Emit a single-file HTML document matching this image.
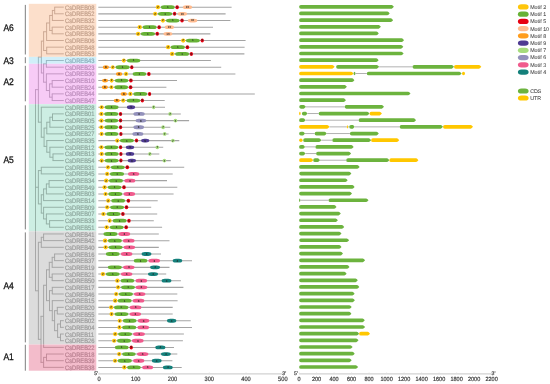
<!DOCTYPE html>
<html><head><meta charset="utf-8"><title>CsDREB</title>
<style>
html,body{margin:0;padding:0;background:#fff;}
body{width:550px;height:384px;overflow:hidden;}
#wrap{width:550px;height:384px;}
svg{display:block;font-family:"Liberation Sans",Arial,sans-serif;text-rendering:geometricPrecision;}
</style></head><body>
<div id="wrap">
<svg width="550" height="384" viewBox="0 0 550 384">
<g>
<rect x="0" y="0" width="550" height="384" fill="#ffffff"/>
<rect x="28.8" y="3.80" width="67.50" height="53.10" fill="#fcdfcb"/>
<rect x="28.8" y="56.90" width="67.50" height="6.90" fill="#d1eff9"/>
<rect x="28.8" y="63.80" width="67.50" height="40.40" fill="#f7cbf6"/>
<rect x="28.8" y="104.20" width="67.50" height="127.10" fill="#cdeee3"/>
<rect x="28.8" y="231.30" width="67.50" height="113.20" fill="#dcdcdc"/>
<rect x="28.8" y="344.50" width="67.50" height="26.20" fill="#f3bccb"/>
<rect x="24.8" y="4.90" width="1.1" height="49.60" fill="#8a8a8a"/>
<text transform="translate(8.6,31.35) scale(1,1.12)" font-size="8.5" text-anchor="middle" fill="#111" stroke="#111" stroke-width="0.25">A6</text>
<rect x="24.8" y="57.20" width="1.1" height="6.00" fill="#8a8a8a"/>
<text transform="translate(8.6,64.05) scale(1,1.12)" font-size="8.5" text-anchor="middle" fill="#111" stroke="#111" stroke-width="0.25">A3</text>
<rect x="24.8" y="65.80" width="1.1" height="35.50" fill="#8a8a8a"/>
<text transform="translate(8.6,85.35) scale(1,1.12)" font-size="8.5" text-anchor="middle" fill="#111" stroke="#111" stroke-width="0.25">A2</text>
<rect x="24.8" y="105.30" width="1.1" height="124.10" fill="#8a8a8a"/>
<text transform="translate(8.6,162.95) scale(1,1.12)" font-size="8.5" text-anchor="middle" fill="#111" stroke="#111" stroke-width="0.25">A5</text>
<rect x="24.8" y="232.40" width="1.1" height="110.00" fill="#8a8a8a"/>
<text transform="translate(8.6,289.35) scale(1,1.12)" font-size="8.5" text-anchor="middle" fill="#111" stroke="#111" stroke-width="0.25">A4</text>
<rect x="24.8" y="344.80" width="1.1" height="25.90" fill="#8a8a8a"/>
<text transform="translate(8.6,360.35) scale(1,1.12)" font-size="8.5" text-anchor="middle" fill="#111" stroke="#111" stroke-width="0.25">A1</text>
<line x1="54.25" y1="7.14" x2="63.80" y2="7.14" stroke="#c7a48e" stroke-width="0.9"/>
<line x1="54.25" y1="13.81" x2="63.80" y2="13.81" stroke="#c7a48e" stroke-width="0.9"/>
<line x1="54.70" y1="7.14" x2="54.70" y2="13.81" stroke="#c7a48e" stroke-width="0.9"/>
<line x1="51.95" y1="10.48" x2="54.70" y2="10.48" stroke="#c7a48e" stroke-width="0.9"/>
<line x1="51.95" y1="20.48" x2="63.80" y2="20.48" stroke="#c7a48e" stroke-width="0.9"/>
<line x1="52.40" y1="10.48" x2="52.40" y2="20.48" stroke="#c7a48e" stroke-width="0.9"/>
<line x1="51.75" y1="27.15" x2="63.80" y2="27.15" stroke="#c7a48e" stroke-width="0.9"/>
<line x1="51.75" y1="33.82" x2="63.80" y2="33.82" stroke="#c7a48e" stroke-width="0.9"/>
<line x1="52.20" y1="27.15" x2="52.20" y2="33.82" stroke="#c7a48e" stroke-width="0.9"/>
<line x1="49.25" y1="15.48" x2="52.40" y2="15.48" stroke="#c7a48e" stroke-width="0.9"/>
<line x1="49.25" y1="30.49" x2="52.20" y2="30.49" stroke="#c7a48e" stroke-width="0.9"/>
<line x1="49.70" y1="15.48" x2="49.70" y2="30.49" stroke="#c7a48e" stroke-width="0.9"/>
<line x1="46.15" y1="22.98" x2="49.70" y2="22.98" stroke="#c7a48e" stroke-width="0.9"/>
<line x1="46.15" y1="40.50" x2="63.80" y2="40.50" stroke="#c7a48e" stroke-width="0.9"/>
<line x1="46.60" y1="22.98" x2="46.60" y2="40.50" stroke="#c7a48e" stroke-width="0.9"/>
<line x1="46.25" y1="47.17" x2="63.80" y2="47.17" stroke="#c7a48e" stroke-width="0.9"/>
<line x1="46.25" y1="53.84" x2="63.80" y2="53.84" stroke="#c7a48e" stroke-width="0.9"/>
<line x1="46.70" y1="47.17" x2="46.70" y2="53.84" stroke="#c7a48e" stroke-width="0.9"/>
<line x1="43.15" y1="31.74" x2="46.60" y2="31.74" stroke="#c7a48e" stroke-width="0.9"/>
<line x1="43.15" y1="50.50" x2="46.70" y2="50.50" stroke="#c7a48e" stroke-width="0.9"/>
<line x1="43.60" y1="31.74" x2="43.60" y2="50.50" stroke="#c7a48e" stroke-width="0.9"/>
<line x1="45.95" y1="60.51" x2="63.80" y2="60.51" stroke="#94b4c0" stroke-width="0.9"/>
<line x1="45.95" y1="67.18" x2="63.80" y2="67.18" stroke="#be92be" stroke-width="0.9"/>
<line x1="46.40" y1="60.51" x2="46.40" y2="63.80" stroke="#94b4c0" stroke-width="0.9"/>
<line x1="46.40" y1="63.80" x2="46.40" y2="67.18" stroke="#be92be" stroke-width="0.9"/>
<line x1="51.75" y1="80.52" x2="63.80" y2="80.52" stroke="#be92be" stroke-width="0.9"/>
<line x1="51.75" y1="87.19" x2="63.80" y2="87.19" stroke="#be92be" stroke-width="0.9"/>
<line x1="52.20" y1="80.52" x2="52.20" y2="87.19" stroke="#be92be" stroke-width="0.9"/>
<line x1="51.75" y1="93.86" x2="63.80" y2="93.86" stroke="#be92be" stroke-width="0.9"/>
<line x1="51.75" y1="100.53" x2="63.80" y2="100.53" stroke="#be92be" stroke-width="0.9"/>
<line x1="52.20" y1="93.86" x2="52.20" y2="100.53" stroke="#be92be" stroke-width="0.9"/>
<line x1="49.15" y1="83.86" x2="52.20" y2="83.86" stroke="#be92be" stroke-width="0.9"/>
<line x1="49.15" y1="97.20" x2="52.20" y2="97.20" stroke="#be92be" stroke-width="0.9"/>
<line x1="49.60" y1="83.86" x2="49.60" y2="97.20" stroke="#be92be" stroke-width="0.9"/>
<line x1="45.95" y1="73.85" x2="63.80" y2="73.85" stroke="#be92be" stroke-width="0.9"/>
<line x1="45.95" y1="90.53" x2="49.60" y2="90.53" stroke="#be92be" stroke-width="0.9"/>
<line x1="46.40" y1="73.85" x2="46.40" y2="90.53" stroke="#be92be" stroke-width="0.9"/>
<line x1="43.15" y1="63.84" x2="46.40" y2="63.84" stroke="#94b4c0" stroke-width="0.9"/>
<line x1="43.15" y1="82.19" x2="46.40" y2="82.19" stroke="#be92be" stroke-width="0.9"/>
<line x1="43.60" y1="63.84" x2="43.60" y2="82.19" stroke="#be92be" stroke-width="0.9"/>
<line x1="40.95" y1="41.12" x2="43.60" y2="41.12" stroke="#c7a48e" stroke-width="0.9"/>
<line x1="40.95" y1="73.02" x2="43.60" y2="73.02" stroke="#be92be" stroke-width="0.9"/>
<line x1="41.40" y1="41.12" x2="41.40" y2="56.90" stroke="#c7a48e" stroke-width="0.9"/>
<line x1="41.40" y1="56.90" x2="41.40" y2="63.80" stroke="#94b4c0" stroke-width="0.9"/>
<line x1="41.40" y1="63.80" x2="41.40" y2="73.02" stroke="#be92be" stroke-width="0.9"/>
<line x1="52.05" y1="113.88" x2="63.80" y2="113.88" stroke="#90aca1" stroke-width="0.9"/>
<line x1="52.05" y1="120.55" x2="63.80" y2="120.55" stroke="#90aca1" stroke-width="0.9"/>
<line x1="52.50" y1="113.88" x2="52.50" y2="120.55" stroke="#90aca1" stroke-width="0.9"/>
<line x1="49.45" y1="117.21" x2="52.50" y2="117.21" stroke="#90aca1" stroke-width="0.9"/>
<line x1="49.45" y1="127.22" x2="63.80" y2="127.22" stroke="#90aca1" stroke-width="0.9"/>
<line x1="49.90" y1="117.21" x2="49.90" y2="127.22" stroke="#90aca1" stroke-width="0.9"/>
<line x1="46.35" y1="122.21" x2="49.90" y2="122.21" stroke="#90aca1" stroke-width="0.9"/>
<line x1="46.35" y1="133.89" x2="63.80" y2="133.89" stroke="#90aca1" stroke-width="0.9"/>
<line x1="46.80" y1="122.21" x2="46.80" y2="133.89" stroke="#90aca1" stroke-width="0.9"/>
<line x1="52.55" y1="153.90" x2="63.80" y2="153.90" stroke="#90aca1" stroke-width="0.9"/>
<line x1="52.55" y1="160.57" x2="63.80" y2="160.57" stroke="#90aca1" stroke-width="0.9"/>
<line x1="53.00" y1="153.90" x2="53.00" y2="160.57" stroke="#90aca1" stroke-width="0.9"/>
<line x1="49.45" y1="147.23" x2="63.80" y2="147.23" stroke="#90aca1" stroke-width="0.9"/>
<line x1="49.45" y1="157.24" x2="53.00" y2="157.24" stroke="#90aca1" stroke-width="0.9"/>
<line x1="49.90" y1="147.23" x2="49.90" y2="157.24" stroke="#90aca1" stroke-width="0.9"/>
<line x1="46.35" y1="140.56" x2="63.80" y2="140.56" stroke="#90aca1" stroke-width="0.9"/>
<line x1="46.35" y1="152.23" x2="49.90" y2="152.23" stroke="#90aca1" stroke-width="0.9"/>
<line x1="46.80" y1="140.56" x2="46.80" y2="152.23" stroke="#90aca1" stroke-width="0.9"/>
<line x1="43.65" y1="128.05" x2="46.80" y2="128.05" stroke="#90aca1" stroke-width="0.9"/>
<line x1="43.65" y1="146.40" x2="46.80" y2="146.40" stroke="#90aca1" stroke-width="0.9"/>
<line x1="44.10" y1="128.05" x2="44.10" y2="146.40" stroke="#90aca1" stroke-width="0.9"/>
<line x1="40.85" y1="107.20" x2="63.80" y2="107.20" stroke="#90aca1" stroke-width="0.9"/>
<line x1="40.85" y1="137.22" x2="44.10" y2="137.22" stroke="#90aca1" stroke-width="0.9"/>
<line x1="41.30" y1="107.20" x2="41.30" y2="137.22" stroke="#90aca1" stroke-width="0.9"/>
<line x1="37.95" y1="57.07" x2="41.40" y2="57.07" stroke="#c7a48e" stroke-width="0.9"/>
<line x1="37.95" y1="122.21" x2="41.30" y2="122.21" stroke="#90aca1" stroke-width="0.9"/>
<line x1="38.40" y1="57.07" x2="38.40" y2="63.80" stroke="#94b4c0" stroke-width="0.9"/>
<line x1="38.40" y1="63.80" x2="38.40" y2="104.20" stroke="#be92be" stroke-width="0.9"/>
<line x1="38.40" y1="104.20" x2="38.40" y2="122.21" stroke="#90aca1" stroke-width="0.9"/>
<line x1="40.85" y1="167.24" x2="63.80" y2="167.24" stroke="#90aca1" stroke-width="0.9"/>
<line x1="40.85" y1="173.91" x2="63.80" y2="173.91" stroke="#90aca1" stroke-width="0.9"/>
<line x1="41.30" y1="167.24" x2="41.30" y2="173.91" stroke="#90aca1" stroke-width="0.9"/>
<line x1="48.65" y1="180.59" x2="63.80" y2="180.59" stroke="#90aca1" stroke-width="0.9"/>
<line x1="48.65" y1="187.26" x2="63.80" y2="187.26" stroke="#90aca1" stroke-width="0.9"/>
<line x1="49.10" y1="180.59" x2="49.10" y2="187.26" stroke="#90aca1" stroke-width="0.9"/>
<line x1="45.95" y1="183.92" x2="49.10" y2="183.92" stroke="#90aca1" stroke-width="0.9"/>
<line x1="45.95" y1="193.93" x2="63.80" y2="193.93" stroke="#90aca1" stroke-width="0.9"/>
<line x1="46.40" y1="183.92" x2="46.40" y2="193.93" stroke="#90aca1" stroke-width="0.9"/>
<line x1="43.15" y1="188.92" x2="46.40" y2="188.92" stroke="#90aca1" stroke-width="0.9"/>
<line x1="43.15" y1="200.60" x2="63.80" y2="200.60" stroke="#90aca1" stroke-width="0.9"/>
<line x1="43.60" y1="188.92" x2="43.60" y2="200.60" stroke="#90aca1" stroke-width="0.9"/>
<line x1="49.15" y1="220.61" x2="63.80" y2="220.61" stroke="#90aca1" stroke-width="0.9"/>
<line x1="49.15" y1="227.28" x2="63.80" y2="227.28" stroke="#90aca1" stroke-width="0.9"/>
<line x1="49.60" y1="220.61" x2="49.60" y2="227.28" stroke="#90aca1" stroke-width="0.9"/>
<line x1="45.95" y1="213.94" x2="63.80" y2="213.94" stroke="#90aca1" stroke-width="0.9"/>
<line x1="45.95" y1="223.95" x2="49.60" y2="223.95" stroke="#90aca1" stroke-width="0.9"/>
<line x1="46.40" y1="213.94" x2="46.40" y2="223.95" stroke="#90aca1" stroke-width="0.9"/>
<line x1="43.15" y1="207.27" x2="63.80" y2="207.27" stroke="#90aca1" stroke-width="0.9"/>
<line x1="43.15" y1="218.94" x2="46.40" y2="218.94" stroke="#90aca1" stroke-width="0.9"/>
<line x1="43.60" y1="207.27" x2="43.60" y2="218.94" stroke="#90aca1" stroke-width="0.9"/>
<line x1="40.85" y1="194.76" x2="43.60" y2="194.76" stroke="#90aca1" stroke-width="0.9"/>
<line x1="40.85" y1="213.11" x2="43.60" y2="213.11" stroke="#90aca1" stroke-width="0.9"/>
<line x1="41.30" y1="194.76" x2="41.30" y2="213.11" stroke="#90aca1" stroke-width="0.9"/>
<line x1="37.95" y1="170.58" x2="41.30" y2="170.58" stroke="#90aca1" stroke-width="0.9"/>
<line x1="37.95" y1="203.93" x2="41.30" y2="203.93" stroke="#90aca1" stroke-width="0.9"/>
<line x1="38.40" y1="170.58" x2="38.40" y2="203.93" stroke="#90aca1" stroke-width="0.9"/>
<line x1="43.15" y1="233.95" x2="63.80" y2="233.95" stroke="#a0a0a0" stroke-width="0.9"/>
<line x1="43.15" y1="240.62" x2="63.80" y2="240.62" stroke="#a0a0a0" stroke-width="0.9"/>
<line x1="43.60" y1="233.95" x2="43.60" y2="240.62" stroke="#a0a0a0" stroke-width="0.9"/>
<line x1="40.85" y1="237.29" x2="43.60" y2="237.29" stroke="#a0a0a0" stroke-width="0.9"/>
<line x1="40.85" y1="247.30" x2="63.80" y2="247.30" stroke="#a0a0a0" stroke-width="0.9"/>
<line x1="41.30" y1="237.29" x2="41.30" y2="247.30" stroke="#a0a0a0" stroke-width="0.9"/>
<line x1="54.15" y1="253.97" x2="63.80" y2="253.97" stroke="#a0a0a0" stroke-width="0.9"/>
<line x1="54.15" y1="260.64" x2="63.80" y2="260.64" stroke="#a0a0a0" stroke-width="0.9"/>
<line x1="54.60" y1="253.97" x2="54.60" y2="260.64" stroke="#a0a0a0" stroke-width="0.9"/>
<line x1="51.75" y1="257.30" x2="54.60" y2="257.30" stroke="#a0a0a0" stroke-width="0.9"/>
<line x1="51.75" y1="267.31" x2="63.80" y2="267.31" stroke="#a0a0a0" stroke-width="0.9"/>
<line x1="52.20" y1="257.30" x2="52.20" y2="267.31" stroke="#a0a0a0" stroke-width="0.9"/>
<line x1="51.75" y1="273.98" x2="63.80" y2="273.98" stroke="#a0a0a0" stroke-width="0.9"/>
<line x1="51.75" y1="280.65" x2="63.80" y2="280.65" stroke="#a0a0a0" stroke-width="0.9"/>
<line x1="52.20" y1="273.98" x2="52.20" y2="280.65" stroke="#a0a0a0" stroke-width="0.9"/>
<line x1="48.85" y1="262.31" x2="52.20" y2="262.31" stroke="#a0a0a0" stroke-width="0.9"/>
<line x1="48.85" y1="277.32" x2="52.20" y2="277.32" stroke="#a0a0a0" stroke-width="0.9"/>
<line x1="49.30" y1="262.31" x2="49.30" y2="277.32" stroke="#a0a0a0" stroke-width="0.9"/>
<line x1="51.85" y1="287.32" x2="63.80" y2="287.32" stroke="#a0a0a0" stroke-width="0.9"/>
<line x1="51.85" y1="293.99" x2="63.80" y2="293.99" stroke="#a0a0a0" stroke-width="0.9"/>
<line x1="52.30" y1="287.32" x2="52.30" y2="293.99" stroke="#a0a0a0" stroke-width="0.9"/>
<line x1="56.85" y1="307.33" x2="63.80" y2="307.33" stroke="#a0a0a0" stroke-width="0.9"/>
<line x1="56.85" y1="314.01" x2="63.80" y2="314.01" stroke="#a0a0a0" stroke-width="0.9"/>
<line x1="57.30" y1="307.33" x2="57.30" y2="314.01" stroke="#a0a0a0" stroke-width="0.9"/>
<line x1="60.05" y1="320.68" x2="63.80" y2="320.68" stroke="#a0a0a0" stroke-width="0.9"/>
<line x1="60.05" y1="327.35" x2="63.80" y2="327.35" stroke="#a0a0a0" stroke-width="0.9"/>
<line x1="60.50" y1="320.68" x2="60.50" y2="327.35" stroke="#a0a0a0" stroke-width="0.9"/>
<line x1="60.05" y1="334.02" x2="63.80" y2="334.02" stroke="#a0a0a0" stroke-width="0.9"/>
<line x1="60.05" y1="340.69" x2="63.80" y2="340.69" stroke="#a0a0a0" stroke-width="0.9"/>
<line x1="60.50" y1="334.02" x2="60.50" y2="340.69" stroke="#a0a0a0" stroke-width="0.9"/>
<line x1="57.15" y1="324.01" x2="60.50" y2="324.01" stroke="#a0a0a0" stroke-width="0.9"/>
<line x1="57.15" y1="337.35" x2="60.50" y2="337.35" stroke="#a0a0a0" stroke-width="0.9"/>
<line x1="57.60" y1="324.01" x2="57.60" y2="337.35" stroke="#a0a0a0" stroke-width="0.9"/>
<line x1="54.15" y1="310.67" x2="57.30" y2="310.67" stroke="#a0a0a0" stroke-width="0.9"/>
<line x1="54.15" y1="330.68" x2="57.60" y2="330.68" stroke="#a0a0a0" stroke-width="0.9"/>
<line x1="54.60" y1="310.67" x2="54.60" y2="330.68" stroke="#a0a0a0" stroke-width="0.9"/>
<line x1="51.85" y1="300.66" x2="63.80" y2="300.66" stroke="#a0a0a0" stroke-width="0.9"/>
<line x1="51.85" y1="320.68" x2="54.60" y2="320.68" stroke="#a0a0a0" stroke-width="0.9"/>
<line x1="52.30" y1="300.66" x2="52.30" y2="320.68" stroke="#a0a0a0" stroke-width="0.9"/>
<line x1="49.05" y1="290.66" x2="52.30" y2="290.66" stroke="#a0a0a0" stroke-width="0.9"/>
<line x1="49.05" y1="310.67" x2="52.30" y2="310.67" stroke="#a0a0a0" stroke-width="0.9"/>
<line x1="49.50" y1="290.66" x2="49.50" y2="310.67" stroke="#a0a0a0" stroke-width="0.9"/>
<line x1="46.05" y1="269.81" x2="49.30" y2="269.81" stroke="#a0a0a0" stroke-width="0.9"/>
<line x1="46.05" y1="300.66" x2="49.50" y2="300.66" stroke="#a0a0a0" stroke-width="0.9"/>
<line x1="46.50" y1="269.81" x2="46.50" y2="300.66" stroke="#a0a0a0" stroke-width="0.9"/>
<line x1="43.15" y1="285.24" x2="46.50" y2="285.24" stroke="#a0a0a0" stroke-width="0.9"/>
<line x1="43.15" y1="347.36" x2="63.80" y2="347.36" stroke="#c08896" stroke-width="0.9"/>
<line x1="43.60" y1="285.24" x2="43.60" y2="344.50" stroke="#a0a0a0" stroke-width="0.9"/>
<line x1="43.60" y1="344.50" x2="43.60" y2="347.36" stroke="#c08896" stroke-width="0.9"/>
<line x1="46.05" y1="354.03" x2="63.80" y2="354.03" stroke="#c08896" stroke-width="0.9"/>
<line x1="46.05" y1="360.70" x2="63.80" y2="360.70" stroke="#c08896" stroke-width="0.9"/>
<line x1="46.50" y1="354.03" x2="46.50" y2="360.70" stroke="#c08896" stroke-width="0.9"/>
<line x1="43.15" y1="357.37" x2="46.50" y2="357.37" stroke="#c08896" stroke-width="0.9"/>
<line x1="43.15" y1="367.37" x2="63.80" y2="367.37" stroke="#c08896" stroke-width="0.9"/>
<line x1="43.60" y1="357.37" x2="43.60" y2="367.37" stroke="#c08896" stroke-width="0.9"/>
<line x1="40.55" y1="316.30" x2="43.60" y2="316.30" stroke="#a0a0a0" stroke-width="0.9"/>
<line x1="40.55" y1="362.37" x2="43.60" y2="362.37" stroke="#c08896" stroke-width="0.9"/>
<line x1="41.00" y1="316.30" x2="41.00" y2="344.50" stroke="#a0a0a0" stroke-width="0.9"/>
<line x1="41.00" y1="344.50" x2="41.00" y2="362.37" stroke="#c08896" stroke-width="0.9"/>
<line x1="37.95" y1="242.29" x2="41.30" y2="242.29" stroke="#a0a0a0" stroke-width="0.9"/>
<line x1="37.95" y1="339.33" x2="41.00" y2="339.33" stroke="#a0a0a0" stroke-width="0.9"/>
<line x1="38.40" y1="242.29" x2="38.40" y2="339.33" stroke="#a0a0a0" stroke-width="0.9"/>
<line x1="35.05" y1="89.64" x2="38.40" y2="89.64" stroke="#be92be" stroke-width="0.9"/>
<line x1="35.05" y1="187.26" x2="38.40" y2="187.26" stroke="#90aca1" stroke-width="0.9"/>
<line x1="35.05" y1="290.81" x2="38.40" y2="290.81" stroke="#a0a0a0" stroke-width="0.9"/>
<line x1="35.50" y1="89.64" x2="35.50" y2="104.20" stroke="#be92be" stroke-width="0.9"/>
<line x1="35.50" y1="104.20" x2="35.50" y2="231.30" stroke="#90aca1" stroke-width="0.9"/>
<line x1="35.50" y1="231.30" x2="35.50" y2="290.81" stroke="#a0a0a0" stroke-width="0.9"/>
<text transform="translate(65.0,9.69) scale(1,1.12)" font-size="5.75" fill="#c3a08b" stroke="#c3a08b" stroke-width="0.2">CsDREB08</text>
<text transform="translate(65.0,16.36) scale(1,1.12)" font-size="5.75" fill="#c3a08b" stroke="#c3a08b" stroke-width="0.2">CsDREB52</text>
<text transform="translate(65.0,23.03) scale(1,1.12)" font-size="5.75" fill="#c3a08b" stroke="#c3a08b" stroke-width="0.2">CsDREB32</text>
<text transform="translate(65.0,29.70) scale(1,1.12)" font-size="5.75" fill="#c3a08b" stroke="#c3a08b" stroke-width="0.2">CsDREB29</text>
<text transform="translate(65.0,36.37) scale(1,1.12)" font-size="5.75" fill="#c3a08b" stroke="#c3a08b" stroke-width="0.2">CsDREB36</text>
<text transform="translate(65.0,43.05) scale(1,1.12)" font-size="5.75" fill="#c3a08b" stroke="#c3a08b" stroke-width="0.2">CsDREB06</text>
<text transform="translate(65.0,49.72) scale(1,1.12)" font-size="5.75" fill="#c3a08b" stroke="#c3a08b" stroke-width="0.2">CsDREB48</text>
<text transform="translate(65.0,56.39) scale(1,1.12)" font-size="5.75" fill="#c3a08b" stroke="#c3a08b" stroke-width="0.2">CsDREB53</text>
<text transform="translate(65.0,63.06) scale(1,1.12)" font-size="5.75" fill="#8fb0bd" stroke="#8fb0bd" stroke-width="0.2">CsDREB43</text>
<text transform="translate(65.0,69.73) scale(1,1.12)" font-size="5.75" fill="#bb8cbb" stroke="#bb8cbb" stroke-width="0.2">CsDREB23</text>
<text transform="translate(65.0,76.40) scale(1,1.12)" font-size="5.75" fill="#bb8cbb" stroke="#bb8cbb" stroke-width="0.2">CsDREB30</text>
<text transform="translate(65.0,83.07) scale(1,1.12)" font-size="5.75" fill="#bb8cbb" stroke="#bb8cbb" stroke-width="0.2">CsDREB10</text>
<text transform="translate(65.0,89.74) scale(1,1.12)" font-size="5.75" fill="#bb8cbb" stroke="#bb8cbb" stroke-width="0.2">CsDREB24</text>
<text transform="translate(65.0,96.41) scale(1,1.12)" font-size="5.75" fill="#bb8cbb" stroke="#bb8cbb" stroke-width="0.2">CsDREB44</text>
<text transform="translate(65.0,103.08) scale(1,1.12)" font-size="5.75" fill="#bb8cbb" stroke="#bb8cbb" stroke-width="0.2">CsDREB47</text>
<text transform="translate(65.0,109.75) scale(1,1.12)" font-size="5.75" fill="#8fa99f" stroke="#8fa99f" stroke-width="0.2">CsDREB28</text>
<text transform="translate(65.0,116.43) scale(1,1.12)" font-size="5.75" fill="#8fa99f" stroke="#8fa99f" stroke-width="0.2">CsDREB01</text>
<text transform="translate(65.0,123.10) scale(1,1.12)" font-size="5.75" fill="#8fa99f" stroke="#8fa99f" stroke-width="0.2">CsDREB05</text>
<text transform="translate(65.0,129.77) scale(1,1.12)" font-size="5.75" fill="#8fa99f" stroke="#8fa99f" stroke-width="0.2">CsDREB25</text>
<text transform="translate(65.0,136.44) scale(1,1.12)" font-size="5.75" fill="#8fa99f" stroke="#8fa99f" stroke-width="0.2">CsDREB27</text>
<text transform="translate(65.0,143.11) scale(1,1.12)" font-size="5.75" fill="#8fa99f" stroke="#8fa99f" stroke-width="0.2">CsDREB35</text>
<text transform="translate(65.0,149.78) scale(1,1.12)" font-size="5.75" fill="#8fa99f" stroke="#8fa99f" stroke-width="0.2">CsDREB12</text>
<text transform="translate(65.0,156.45) scale(1,1.12)" font-size="5.75" fill="#8fa99f" stroke="#8fa99f" stroke-width="0.2">CsDREB13</text>
<text transform="translate(65.0,163.12) scale(1,1.12)" font-size="5.75" fill="#8fa99f" stroke="#8fa99f" stroke-width="0.2">CsDREB54</text>
<text transform="translate(65.0,169.79) scale(1,1.12)" font-size="5.75" fill="#8fa99f" stroke="#8fa99f" stroke-width="0.2">CsDREB31</text>
<text transform="translate(65.0,176.47) scale(1,1.12)" font-size="5.75" fill="#8fa99f" stroke="#8fa99f" stroke-width="0.2">CsDREB45</text>
<text transform="translate(65.0,183.14) scale(1,1.12)" font-size="5.75" fill="#8fa99f" stroke="#8fa99f" stroke-width="0.2">CsDREB34</text>
<text transform="translate(65.0,189.81) scale(1,1.12)" font-size="5.75" fill="#8fa99f" stroke="#8fa99f" stroke-width="0.2">CsDREB49</text>
<text transform="translate(65.0,196.48) scale(1,1.12)" font-size="5.75" fill="#8fa99f" stroke="#8fa99f" stroke-width="0.2">CsDREB03</text>
<text transform="translate(65.0,203.15) scale(1,1.12)" font-size="5.75" fill="#8fa99f" stroke="#8fa99f" stroke-width="0.2">CsDREB14</text>
<text transform="translate(65.0,209.82) scale(1,1.12)" font-size="5.75" fill="#8fa99f" stroke="#8fa99f" stroke-width="0.2">CsDREB09</text>
<text transform="translate(65.0,216.49) scale(1,1.12)" font-size="5.75" fill="#8fa99f" stroke="#8fa99f" stroke-width="0.2">CsDREB07</text>
<text transform="translate(65.0,223.16) scale(1,1.12)" font-size="5.75" fill="#8fa99f" stroke="#8fa99f" stroke-width="0.2">CsDREB33</text>
<text transform="translate(65.0,229.83) scale(1,1.12)" font-size="5.75" fill="#8fa99f" stroke="#8fa99f" stroke-width="0.2">CsDREB51</text>
<text transform="translate(65.0,236.50) scale(1,1.12)" font-size="5.75" fill="#9c9c9c" stroke="#9c9c9c" stroke-width="0.2">CsDREB41</text>
<text transform="translate(65.0,243.18) scale(1,1.12)" font-size="5.75" fill="#9c9c9c" stroke="#9c9c9c" stroke-width="0.2">CsDREB42</text>
<text transform="translate(65.0,249.85) scale(1,1.12)" font-size="5.75" fill="#9c9c9c" stroke="#9c9c9c" stroke-width="0.2">CsDREB40</text>
<text transform="translate(65.0,256.52) scale(1,1.12)" font-size="5.75" fill="#9c9c9c" stroke="#9c9c9c" stroke-width="0.2">CsDREB16</text>
<text transform="translate(65.0,263.19) scale(1,1.12)" font-size="5.75" fill="#9c9c9c" stroke="#9c9c9c" stroke-width="0.2">CsDREB37</text>
<text transform="translate(65.0,269.86) scale(1,1.12)" font-size="5.75" fill="#9c9c9c" stroke="#9c9c9c" stroke-width="0.2">CsDREB19</text>
<text transform="translate(65.0,276.53) scale(1,1.12)" font-size="5.75" fill="#9c9c9c" stroke="#9c9c9c" stroke-width="0.2">CsDREB21</text>
<text transform="translate(65.0,283.20) scale(1,1.12)" font-size="5.75" fill="#9c9c9c" stroke="#9c9c9c" stroke-width="0.2">CsDREB50</text>
<text transform="translate(65.0,289.87) scale(1,1.12)" font-size="5.75" fill="#9c9c9c" stroke="#9c9c9c" stroke-width="0.2">CsDREB17</text>
<text transform="translate(65.0,296.54) scale(1,1.12)" font-size="5.75" fill="#9c9c9c" stroke="#9c9c9c" stroke-width="0.2">CsDREB46</text>
<text transform="translate(65.0,303.21) scale(1,1.12)" font-size="5.75" fill="#9c9c9c" stroke="#9c9c9c" stroke-width="0.2">CsDREB15</text>
<text transform="translate(65.0,309.88) scale(1,1.12)" font-size="5.75" fill="#9c9c9c" stroke="#9c9c9c" stroke-width="0.2">CsDREB20</text>
<text transform="translate(65.0,316.56) scale(1,1.12)" font-size="5.75" fill="#9c9c9c" stroke="#9c9c9c" stroke-width="0.2">CsDREB55</text>
<text transform="translate(65.0,323.23) scale(1,1.12)" font-size="5.75" fill="#9c9c9c" stroke="#9c9c9c" stroke-width="0.2">CsDREB02</text>
<text transform="translate(65.0,329.90) scale(1,1.12)" font-size="5.75" fill="#9c9c9c" stroke="#9c9c9c" stroke-width="0.2">CsDREB04</text>
<text transform="translate(65.0,336.57) scale(1,1.12)" font-size="5.75" fill="#9c9c9c" stroke="#9c9c9c" stroke-width="0.2">CsDREB11</text>
<text transform="translate(65.0,343.24) scale(1,1.12)" font-size="5.75" fill="#9c9c9c" stroke="#9c9c9c" stroke-width="0.2">CsDREB26</text>
<text transform="translate(65.0,349.91) scale(1,1.12)" font-size="5.75" fill="#b98191" stroke="#b98191" stroke-width="0.2">CsDREB22</text>
<text transform="translate(65.0,356.58) scale(1,1.12)" font-size="5.75" fill="#b98191" stroke="#b98191" stroke-width="0.2">CsDREB18</text>
<text transform="translate(65.0,363.25) scale(1,1.12)" font-size="5.75" fill="#b98191" stroke="#b98191" stroke-width="0.2">CsDREB39</text>
<text transform="translate(65.0,369.92) scale(1,1.12)" font-size="5.75" fill="#b98191" stroke="#b98191" stroke-width="0.2">CsDREB38</text>
<line x1="98.3" y1="7.19" x2="231.6" y2="7.19" stroke="#a4a4a4" stroke-width="1.05"/>
<ellipse cx="157.90" cy="7.19" rx="2.10" ry="2.10" fill="#ffc60b"/>
<text x="157.90" y="8.09" font-size="3.0" font-weight="bold" text-anchor="middle" fill="#1e1e1e">2</text>
<rect x="160.90" y="5.29" width="13.80" height="3.80" rx="3.23" ry="1.90" fill="#67b236"/>
<text x="167.80" y="8.09" font-size="3.0" font-weight="bold" text-anchor="middle" fill="#1e1e1e">1</text>
<ellipse cx="177.15" cy="7.19" rx="1.75" ry="2.00" fill="#e60012"/>
<text x="177.15" y="8.09" font-size="3.0" font-weight="bold" text-anchor="middle" fill="#1e1e1e">5</text>
<rect x="182.90" y="5.29" width="9.20" height="3.80" rx="3.23" ry="1.90" fill="#ffbb8f"/>
<text x="187.50" y="8.09" font-size="3.0" font-weight="bold" text-anchor="middle" fill="#1e1e1e">10</text>
<line x1="98.3" y1="13.86" x2="225.6" y2="13.86" stroke="#a4a4a4" stroke-width="1.05"/>
<ellipse cx="155.15" cy="13.86" rx="2.05" ry="2.10" fill="#ffc60b"/>
<text x="155.15" y="14.76" font-size="3.0" font-weight="bold" text-anchor="middle" fill="#1e1e1e">2</text>
<rect x="158.00" y="11.96" width="14.20" height="3.80" rx="3.23" ry="1.90" fill="#67b236"/>
<text x="165.10" y="14.76" font-size="3.0" font-weight="bold" text-anchor="middle" fill="#1e1e1e">1</text>
<ellipse cx="174.55" cy="13.86" rx="1.65" ry="2.00" fill="#e60012"/>
<text x="174.55" y="14.76" font-size="3.0" font-weight="bold" text-anchor="middle" fill="#1e1e1e">5</text>
<rect x="177.60" y="11.96" width="9.50" height="3.80" rx="3.23" ry="1.90" fill="#ffbb8f"/>
<text x="182.35" y="14.76" font-size="3.0" font-weight="bold" text-anchor="middle" fill="#1e1e1e">10</text>
<line x1="98.3" y1="20.53" x2="230.4" y2="20.53" stroke="#a4a4a4" stroke-width="1.05"/>
<ellipse cx="162.95" cy="20.53" rx="2.05" ry="2.10" fill="#ffc60b"/>
<text x="162.95" y="21.43" font-size="3.0" font-weight="bold" text-anchor="middle" fill="#1e1e1e">2</text>
<rect x="166.00" y="18.63" width="13.50" height="3.80" rx="3.23" ry="1.90" fill="#67b236"/>
<text x="172.75" y="21.43" font-size="3.0" font-weight="bold" text-anchor="middle" fill="#1e1e1e">1</text>
<ellipse cx="182.05" cy="20.53" rx="1.75" ry="2.00" fill="#e60012"/>
<text x="182.05" y="21.43" font-size="3.0" font-weight="bold" text-anchor="middle" fill="#1e1e1e">5</text>
<rect x="187.80" y="18.63" width="9.50" height="3.80" rx="3.23" ry="1.90" fill="#ffbb8f"/>
<text x="192.55" y="21.43" font-size="3.0" font-weight="bold" text-anchor="middle" fill="#1e1e1e">10</text>
<line x1="98.3" y1="27.20" x2="213.0" y2="27.20" stroke="#a4a4a4" stroke-width="1.05"/>
<ellipse cx="139.70" cy="27.20" rx="2.20" ry="2.10" fill="#ffc60b"/>
<text x="139.70" y="28.10" font-size="3.0" font-weight="bold" text-anchor="middle" fill="#1e1e1e">2</text>
<rect x="142.70" y="25.30" width="13.90" height="3.80" rx="3.23" ry="1.90" fill="#67b236"/>
<text x="149.65" y="28.10" font-size="3.0" font-weight="bold" text-anchor="middle" fill="#1e1e1e">1</text>
<ellipse cx="159.15" cy="27.20" rx="1.75" ry="2.00" fill="#e60012"/>
<text x="159.15" y="28.10" font-size="3.0" font-weight="bold" text-anchor="middle" fill="#1e1e1e">5</text>
<rect x="164.80" y="25.30" width="9.20" height="3.80" rx="3.23" ry="1.90" fill="#ffbb8f"/>
<text x="169.40" y="28.10" font-size="3.0" font-weight="bold" text-anchor="middle" fill="#1e1e1e">10</text>
<line x1="98.3" y1="33.87" x2="210.4" y2="33.87" stroke="#a4a4a4" stroke-width="1.05"/>
<ellipse cx="138.10" cy="33.87" rx="2.20" ry="2.10" fill="#ffc60b"/>
<text x="138.10" y="34.77" font-size="3.0" font-weight="bold" text-anchor="middle" fill="#1e1e1e">2</text>
<rect x="140.80" y="31.97" width="14.20" height="3.80" rx="3.23" ry="1.90" fill="#67b236"/>
<text x="147.90" y="34.77" font-size="3.0" font-weight="bold" text-anchor="middle" fill="#1e1e1e">1</text>
<ellipse cx="157.25" cy="33.87" rx="1.75" ry="2.00" fill="#e60012"/>
<text x="157.25" y="34.77" font-size="3.0" font-weight="bold" text-anchor="middle" fill="#1e1e1e">5</text>
<rect x="163.40" y="31.97" width="9.00" height="3.80" rx="3.23" ry="1.90" fill="#ffbb8f"/>
<text x="167.90" y="34.77" font-size="3.0" font-weight="bold" text-anchor="middle" fill="#1e1e1e">10</text>
<line x1="98.3" y1="40.55" x2="245.6" y2="40.55" stroke="#a4a4a4" stroke-width="1.05"/>
<ellipse cx="183.20" cy="40.55" rx="2.20" ry="2.10" fill="#ffc60b"/>
<text x="183.20" y="41.45" font-size="3.0" font-weight="bold" text-anchor="middle" fill="#1e1e1e">2</text>
<rect x="185.90" y="38.65" width="14.00" height="3.80" rx="3.23" ry="1.90" fill="#67b236"/>
<text x="192.90" y="41.45" font-size="3.0" font-weight="bold" text-anchor="middle" fill="#1e1e1e">1</text>
<ellipse cx="202.25" cy="40.55" rx="1.65" ry="2.00" fill="#e60012"/>
<text x="202.25" y="41.45" font-size="3.0" font-weight="bold" text-anchor="middle" fill="#1e1e1e">5</text>
<line x1="98.3" y1="47.22" x2="244.6" y2="47.22" stroke="#a4a4a4" stroke-width="1.05"/>
<ellipse cx="168.10" cy="47.22" rx="2.20" ry="2.10" fill="#ffc60b"/>
<text x="168.10" y="48.12" font-size="3.0" font-weight="bold" text-anchor="middle" fill="#1e1e1e">2</text>
<rect x="170.80" y="45.32" width="14.00" height="3.80" rx="3.23" ry="1.90" fill="#67b236"/>
<text x="177.80" y="48.12" font-size="3.0" font-weight="bold" text-anchor="middle" fill="#1e1e1e">1</text>
<ellipse cx="187.40" cy="47.22" rx="1.80" ry="2.00" fill="#e60012"/>
<text x="187.40" y="48.12" font-size="3.0" font-weight="bold" text-anchor="middle" fill="#1e1e1e">5</text>
<line x1="98.3" y1="53.89" x2="244.4" y2="53.89" stroke="#a4a4a4" stroke-width="1.05"/>
<ellipse cx="172.10" cy="53.89" rx="2.20" ry="2.10" fill="#ffc60b"/>
<text x="172.10" y="54.79" font-size="3.0" font-weight="bold" text-anchor="middle" fill="#1e1e1e">2</text>
<rect x="175.20" y="51.99" width="13.80" height="3.80" rx="3.23" ry="1.90" fill="#67b236"/>
<text x="182.10" y="54.79" font-size="3.0" font-weight="bold" text-anchor="middle" fill="#1e1e1e">1</text>
<ellipse cx="191.35" cy="53.89" rx="1.65" ry="2.00" fill="#e60012"/>
<text x="191.35" y="54.79" font-size="3.0" font-weight="bold" text-anchor="middle" fill="#1e1e1e">5</text>
<line x1="98.3" y1="60.56" x2="210.9" y2="60.56" stroke="#a4a4a4" stroke-width="1.05"/>
<ellipse cx="123.80" cy="60.56" rx="2.00" ry="2.10" fill="#ffc60b"/>
<text x="123.80" y="61.46" font-size="3.0" font-weight="bold" text-anchor="middle" fill="#1e1e1e">2</text>
<rect x="126.90" y="58.66" width="13.40" height="3.80" rx="3.23" ry="1.90" fill="#67b236"/>
<text x="133.60" y="61.46" font-size="3.0" font-weight="bold" text-anchor="middle" fill="#1e1e1e">1</text>
<line x1="98.3" y1="67.23" x2="221.2" y2="67.23" stroke="#a4a4a4" stroke-width="1.05"/>
<rect x="102.90" y="65.33" width="6.00" height="3.80" rx="3.00" ry="1.90" fill="#ff9d1e"/>
<text x="105.90" y="68.13" font-size="3.0" font-weight="bold" text-anchor="middle" fill="#1e1e1e">8</text>
<ellipse cx="112.75" cy="67.23" rx="1.85" ry="2.10" fill="#ffc60b"/>
<text x="112.75" y="68.13" font-size="3.0" font-weight="bold" text-anchor="middle" fill="#1e1e1e">2</text>
<rect x="115.70" y="65.33" width="13.90" height="3.80" rx="3.23" ry="1.90" fill="#67b236"/>
<text x="122.65" y="68.13" font-size="3.0" font-weight="bold" text-anchor="middle" fill="#1e1e1e">1</text>
<ellipse cx="131.80" cy="67.23" rx="1.60" ry="2.00" fill="#e60012"/>
<text x="131.80" y="68.13" font-size="3.0" font-weight="bold" text-anchor="middle" fill="#1e1e1e">5</text>
<line x1="98.3" y1="73.90" x2="235.4" y2="73.90" stroke="#a4a4a4" stroke-width="1.05"/>
<rect x="116.00" y="72.00" width="6.20" height="3.80" rx="3.10" ry="1.90" fill="#ff9d1e"/>
<text x="119.10" y="74.80" font-size="3.0" font-weight="bold" text-anchor="middle" fill="#1e1e1e">8</text>
<ellipse cx="126.00" cy="73.90" rx="2.00" ry="2.10" fill="#ffc60b"/>
<text x="126.00" y="74.80" font-size="3.0" font-weight="bold" text-anchor="middle" fill="#1e1e1e">2</text>
<rect x="132.70" y="72.00" width="13.50" height="3.80" rx="3.23" ry="1.90" fill="#67b236"/>
<text x="139.45" y="74.80" font-size="3.0" font-weight="bold" text-anchor="middle" fill="#1e1e1e">1</text>
<ellipse cx="148.85" cy="73.90" rx="1.75" ry="2.00" fill="#e60012"/>
<text x="148.85" y="74.80" font-size="3.0" font-weight="bold" text-anchor="middle" fill="#1e1e1e">5</text>
<line x1="98.3" y1="80.57" x2="177.0" y2="80.57" stroke="#a4a4a4" stroke-width="1.05"/>
<rect x="102.10" y="78.67" width="5.90" height="3.80" rx="2.95" ry="1.90" fill="#ff9d1e"/>
<text x="105.05" y="81.47" font-size="3.0" font-weight="bold" text-anchor="middle" fill="#1e1e1e">8</text>
<ellipse cx="111.65" cy="80.57" rx="1.85" ry="2.10" fill="#ffc60b"/>
<text x="111.65" y="81.47" font-size="3.0" font-weight="bold" text-anchor="middle" fill="#1e1e1e">2</text>
<rect x="114.90" y="78.67" width="13.40" height="3.80" rx="3.23" ry="1.90" fill="#67b236"/>
<text x="121.60" y="81.47" font-size="3.0" font-weight="bold" text-anchor="middle" fill="#1e1e1e">1</text>
<ellipse cx="130.90" cy="80.57" rx="1.80" ry="2.00" fill="#e60012"/>
<text x="130.90" y="81.47" font-size="3.0" font-weight="bold" text-anchor="middle" fill="#1e1e1e">5</text>
<line x1="98.3" y1="87.24" x2="166.4" y2="87.24" stroke="#a4a4a4" stroke-width="1.05"/>
<rect x="101.80" y="85.34" width="6.00" height="3.80" rx="3.00" ry="1.90" fill="#ff9d1e"/>
<text x="104.80" y="88.14" font-size="3.0" font-weight="bold" text-anchor="middle" fill="#1e1e1e">8</text>
<ellipse cx="111.40" cy="87.24" rx="1.90" ry="2.10" fill="#ffc60b"/>
<text x="111.40" y="88.14" font-size="3.0" font-weight="bold" text-anchor="middle" fill="#1e1e1e">2</text>
<rect x="114.40" y="85.34" width="13.60" height="3.80" rx="3.23" ry="1.90" fill="#67b236"/>
<text x="121.20" y="88.14" font-size="3.0" font-weight="bold" text-anchor="middle" fill="#1e1e1e">1</text>
<ellipse cx="130.60" cy="87.24" rx="1.80" ry="2.00" fill="#e60012"/>
<text x="130.60" y="88.14" font-size="3.0" font-weight="bold" text-anchor="middle" fill="#1e1e1e">5</text>
<line x1="98.3" y1="93.91" x2="254.8" y2="93.91" stroke="#a4a4a4" stroke-width="1.05"/>
<rect x="120.70" y="92.01" width="6.20" height="3.80" rx="3.10" ry="1.90" fill="#ff9d1e"/>
<text x="123.80" y="94.81" font-size="3.0" font-weight="bold" text-anchor="middle" fill="#1e1e1e">8</text>
<ellipse cx="130.35" cy="93.91" rx="2.05" ry="2.10" fill="#ffc60b"/>
<text x="130.35" y="94.81" font-size="3.0" font-weight="bold" text-anchor="middle" fill="#1e1e1e">2</text>
<rect x="133.40" y="92.01" width="13.70" height="3.80" rx="3.23" ry="1.90" fill="#67b236"/>
<text x="140.25" y="94.81" font-size="3.0" font-weight="bold" text-anchor="middle" fill="#1e1e1e">1</text>
<ellipse cx="149.60" cy="93.91" rx="1.60" ry="2.00" fill="#e60012"/>
<text x="149.60" y="94.81" font-size="3.0" font-weight="bold" text-anchor="middle" fill="#1e1e1e">5</text>
<line x1="98.3" y1="100.58" x2="164.7" y2="100.58" stroke="#a4a4a4" stroke-width="1.05"/>
<rect x="113.80" y="98.68" width="6.00" height="3.80" rx="3.00" ry="1.90" fill="#ff9d1e"/>
<text x="116.80" y="101.48" font-size="3.0" font-weight="bold" text-anchor="middle" fill="#1e1e1e">8</text>
<ellipse cx="123.20" cy="100.58" rx="2.10" ry="2.10" fill="#ffc60b"/>
<text x="123.20" y="101.48" font-size="3.0" font-weight="bold" text-anchor="middle" fill="#1e1e1e">2</text>
<rect x="126.60" y="98.68" width="13.70" height="3.80" rx="3.23" ry="1.90" fill="#67b236"/>
<text x="133.45" y="101.48" font-size="3.0" font-weight="bold" text-anchor="middle" fill="#1e1e1e">1</text>
<ellipse cx="142.35" cy="100.58" rx="1.65" ry="2.00" fill="#e60012"/>
<text x="142.35" y="101.48" font-size="3.0" font-weight="bold" text-anchor="middle" fill="#1e1e1e">5</text>
<line x1="98.3" y1="107.25" x2="165.0" y2="107.25" stroke="#a4a4a4" stroke-width="1.05"/>
<ellipse cx="101.65" cy="107.25" rx="2.05" ry="2.10" fill="#ffc60b"/>
<text x="101.65" y="108.16" font-size="3.0" font-weight="bold" text-anchor="middle" fill="#1e1e1e">2</text>
<rect x="104.80" y="105.35" width="13.70" height="3.80" rx="3.23" ry="1.90" fill="#67b236"/>
<text x="111.65" y="108.16" font-size="3.0" font-weight="bold" text-anchor="middle" fill="#1e1e1e">1</text>
<rect x="126.90" y="105.35" width="8.20" height="3.80" rx="3.23" ry="1.90" fill="#4f3b92"/>
<text x="131.00" y="108.16" font-size="3.0" font-weight="bold" text-anchor="middle" fill="#1e1e1e">9</text>
<ellipse cx="153.65" cy="107.25" rx="1.65" ry="1.90" fill="#a6dc7c"/>
<text x="153.65" y="108.16" font-size="3.0" font-weight="bold" text-anchor="middle" fill="#1e1e1e">7</text>
<line x1="98.3" y1="113.93" x2="180.8" y2="113.93" stroke="#a4a4a4" stroke-width="1.05"/>
<ellipse cx="101.40" cy="113.93" rx="2.10" ry="2.10" fill="#ffc60b"/>
<text x="101.40" y="114.83" font-size="3.0" font-weight="bold" text-anchor="middle" fill="#1e1e1e">2</text>
<rect x="104.30" y="112.03" width="13.90" height="3.80" rx="3.23" ry="1.90" fill="#67b236"/>
<text x="111.25" y="114.83" font-size="3.0" font-weight="bold" text-anchor="middle" fill="#1e1e1e">1</text>
<ellipse cx="120.55" cy="113.93" rx="1.65" ry="2.00" fill="#e60012"/>
<text x="120.55" y="114.83" font-size="3.0" font-weight="bold" text-anchor="middle" fill="#1e1e1e">5</text>
<rect x="133.40" y="112.03" width="11.30" height="3.80" rx="3.23" ry="1.90" fill="#9391bb"/>
<text x="139.05" y="114.83" font-size="3.0" font-weight="bold" text-anchor="middle" fill="#1e1e1e">6</text>
<ellipse cx="170.05" cy="113.93" rx="1.75" ry="1.90" fill="#a6dc7c"/>
<text x="170.05" y="114.83" font-size="3.0" font-weight="bold" text-anchor="middle" fill="#1e1e1e">7</text>
<line x1="98.3" y1="120.60" x2="189.1" y2="120.60" stroke="#a4a4a4" stroke-width="1.05"/>
<ellipse cx="101.40" cy="120.60" rx="2.10" ry="2.10" fill="#ffc60b"/>
<text x="101.40" y="121.50" font-size="3.0" font-weight="bold" text-anchor="middle" fill="#1e1e1e">2</text>
<rect x="104.80" y="118.70" width="13.40" height="3.80" rx="3.23" ry="1.90" fill="#67b236"/>
<text x="111.50" y="121.50" font-size="3.0" font-weight="bold" text-anchor="middle" fill="#1e1e1e">1</text>
<ellipse cx="120.55" cy="120.60" rx="1.65" ry="2.00" fill="#e60012"/>
<text x="120.55" y="121.50" font-size="3.0" font-weight="bold" text-anchor="middle" fill="#1e1e1e">5</text>
<rect x="135.60" y="118.70" width="10.60" height="3.80" rx="3.23" ry="1.90" fill="#9391bb"/>
<text x="140.90" y="121.50" font-size="3.0" font-weight="bold" text-anchor="middle" fill="#1e1e1e">6</text>
<ellipse cx="175.45" cy="120.60" rx="1.85" ry="1.90" fill="#a6dc7c"/>
<text x="175.45" y="121.50" font-size="3.0" font-weight="bold" text-anchor="middle" fill="#1e1e1e">7</text>
<line x1="98.3" y1="127.27" x2="170.3" y2="127.27" stroke="#a4a4a4" stroke-width="1.05"/>
<ellipse cx="101.40" cy="127.27" rx="2.10" ry="2.10" fill="#ffc60b"/>
<text x="101.40" y="128.17" font-size="3.0" font-weight="bold" text-anchor="middle" fill="#1e1e1e">2</text>
<rect x="104.50" y="125.37" width="13.50" height="3.80" rx="3.23" ry="1.90" fill="#67b236"/>
<text x="111.25" y="128.17" font-size="3.0" font-weight="bold" text-anchor="middle" fill="#1e1e1e">1</text>
<ellipse cx="120.60" cy="127.27" rx="1.60" ry="2.00" fill="#e60012"/>
<text x="120.60" y="128.17" font-size="3.0" font-weight="bold" text-anchor="middle" fill="#1e1e1e">5</text>
<rect x="133.40" y="125.37" width="10.60" height="3.80" rx="3.23" ry="1.90" fill="#9391bb"/>
<text x="138.70" y="128.17" font-size="3.0" font-weight="bold" text-anchor="middle" fill="#1e1e1e">6</text>
<ellipse cx="163.10" cy="127.27" rx="1.80" ry="1.90" fill="#a6dc7c"/>
<text x="163.10" y="128.17" font-size="3.0" font-weight="bold" text-anchor="middle" fill="#1e1e1e">7</text>
<line x1="98.3" y1="133.94" x2="168.6" y2="133.94" stroke="#a4a4a4" stroke-width="1.05"/>
<ellipse cx="101.55" cy="133.94" rx="1.95" ry="2.10" fill="#ffc60b"/>
<text x="101.55" y="134.84" font-size="3.0" font-weight="bold" text-anchor="middle" fill="#1e1e1e">2</text>
<rect x="104.80" y="132.04" width="13.40" height="3.80" rx="3.23" ry="1.90" fill="#67b236"/>
<text x="111.50" y="134.84" font-size="3.0" font-weight="bold" text-anchor="middle" fill="#1e1e1e">1</text>
<ellipse cx="120.90" cy="133.94" rx="1.60" ry="2.00" fill="#e60012"/>
<text x="120.90" y="134.84" font-size="3.0" font-weight="bold" text-anchor="middle" fill="#1e1e1e">5</text>
<rect x="132.40" y="132.04" width="10.90" height="3.80" rx="3.23" ry="1.90" fill="#9391bb"/>
<text x="137.85" y="134.84" font-size="3.0" font-weight="bold" text-anchor="middle" fill="#1e1e1e">6</text>
<ellipse cx="164.70" cy="133.94" rx="1.80" ry="1.90" fill="#a6dc7c"/>
<text x="164.70" y="134.84" font-size="3.0" font-weight="bold" text-anchor="middle" fill="#1e1e1e">7</text>
<line x1="98.3" y1="140.61" x2="179.3" y2="140.61" stroke="#a4a4a4" stroke-width="1.05"/>
<ellipse cx="117.25" cy="140.61" rx="2.05" ry="2.10" fill="#ffc60b"/>
<text x="117.25" y="141.51" font-size="3.0" font-weight="bold" text-anchor="middle" fill="#1e1e1e">2</text>
<rect x="120.00" y="138.71" width="13.80" height="3.80" rx="3.23" ry="1.90" fill="#67b236"/>
<text x="126.90" y="141.51" font-size="3.0" font-weight="bold" text-anchor="middle" fill="#1e1e1e">1</text>
<ellipse cx="136.50" cy="140.61" rx="1.60" ry="2.00" fill="#e60012"/>
<text x="136.50" y="141.51" font-size="3.0" font-weight="bold" text-anchor="middle" fill="#1e1e1e">5</text>
<rect x="141.10" y="138.71" width="8.20" height="3.80" rx="3.23" ry="1.90" fill="#4f3b92"/>
<text x="145.20" y="141.51" font-size="3.0" font-weight="bold" text-anchor="middle" fill="#1e1e1e">9</text>
<ellipse cx="172.90" cy="140.61" rx="1.80" ry="1.90" fill="#a6dc7c"/>
<text x="172.90" y="141.51" font-size="3.0" font-weight="bold" text-anchor="middle" fill="#1e1e1e">7</text>
<line x1="98.3" y1="147.28" x2="163.2" y2="147.28" stroke="#a4a4a4" stroke-width="1.05"/>
<ellipse cx="101.40" cy="147.28" rx="2.10" ry="2.10" fill="#ffc60b"/>
<text x="101.40" y="148.18" font-size="3.0" font-weight="bold" text-anchor="middle" fill="#1e1e1e">2</text>
<rect x="104.50" y="145.38" width="13.70" height="3.80" rx="3.23" ry="1.90" fill="#67b236"/>
<text x="111.35" y="148.18" font-size="3.0" font-weight="bold" text-anchor="middle" fill="#1e1e1e">1</text>
<ellipse cx="120.60" cy="147.28" rx="1.60" ry="2.00" fill="#e60012"/>
<text x="120.60" y="148.18" font-size="3.0" font-weight="bold" text-anchor="middle" fill="#1e1e1e">5</text>
<rect x="125.80" y="145.38" width="8.40" height="3.80" rx="3.23" ry="1.90" fill="#4f3b92"/>
<text x="130.00" y="148.18" font-size="3.0" font-weight="bold" text-anchor="middle" fill="#1e1e1e">9</text>
<ellipse cx="157.30" cy="147.28" rx="1.80" ry="1.90" fill="#a6dc7c"/>
<text x="157.30" y="148.18" font-size="3.0" font-weight="bold" text-anchor="middle" fill="#1e1e1e">7</text>
<line x1="98.3" y1="153.95" x2="159.3" y2="153.95" stroke="#a4a4a4" stroke-width="1.05"/>
<ellipse cx="101.65" cy="153.95" rx="2.05" ry="2.10" fill="#ffc60b"/>
<text x="101.65" y="154.85" font-size="3.0" font-weight="bold" text-anchor="middle" fill="#1e1e1e">2</text>
<rect x="104.80" y="152.05" width="13.70" height="3.80" rx="3.23" ry="1.90" fill="#67b236"/>
<text x="111.65" y="154.85" font-size="3.0" font-weight="bold" text-anchor="middle" fill="#1e1e1e">1</text>
<ellipse cx="120.90" cy="153.95" rx="1.60" ry="2.00" fill="#e60012"/>
<text x="120.90" y="154.85" font-size="3.0" font-weight="bold" text-anchor="middle" fill="#1e1e1e">5</text>
<rect x="125.80" y="152.05" width="8.40" height="3.80" rx="3.23" ry="1.90" fill="#4f3b92"/>
<text x="130.00" y="154.85" font-size="3.0" font-weight="bold" text-anchor="middle" fill="#1e1e1e">9</text>
<ellipse cx="149.85" cy="153.95" rx="1.65" ry="1.90" fill="#a6dc7c"/>
<text x="149.85" y="154.85" font-size="3.0" font-weight="bold" text-anchor="middle" fill="#1e1e1e">7</text>
<line x1="98.3" y1="160.62" x2="170.8" y2="160.62" stroke="#a4a4a4" stroke-width="1.05"/>
<ellipse cx="101.65" cy="160.62" rx="2.05" ry="2.10" fill="#ffc60b"/>
<text x="101.65" y="161.52" font-size="3.0" font-weight="bold" text-anchor="middle" fill="#1e1e1e">2</text>
<rect x="104.80" y="158.72" width="13.70" height="3.80" rx="3.23" ry="1.90" fill="#67b236"/>
<text x="111.65" y="161.52" font-size="3.0" font-weight="bold" text-anchor="middle" fill="#1e1e1e">1</text>
<ellipse cx="120.90" cy="160.62" rx="1.60" ry="2.00" fill="#e60012"/>
<text x="120.90" y="161.52" font-size="3.0" font-weight="bold" text-anchor="middle" fill="#1e1e1e">5</text>
<rect x="127.70" y="158.72" width="8.30" height="3.80" rx="3.23" ry="1.90" fill="#4f3b92"/>
<text x="131.85" y="161.52" font-size="3.0" font-weight="bold" text-anchor="middle" fill="#1e1e1e">9</text>
<ellipse cx="164.40" cy="160.62" rx="1.80" ry="1.90" fill="#a6dc7c"/>
<text x="164.40" y="161.52" font-size="3.0" font-weight="bold" text-anchor="middle" fill="#1e1e1e">7</text>
<line x1="98.3" y1="167.29" x2="184.2" y2="167.29" stroke="#a4a4a4" stroke-width="1.05"/>
<ellipse cx="107.95" cy="167.29" rx="2.05" ry="2.10" fill="#ffc60b"/>
<text x="107.95" y="168.19" font-size="3.0" font-weight="bold" text-anchor="middle" fill="#1e1e1e">2</text>
<rect x="110.90" y="165.39" width="13.80" height="3.80" rx="3.23" ry="1.90" fill="#67b236"/>
<text x="117.80" y="168.19" font-size="3.0" font-weight="bold" text-anchor="middle" fill="#1e1e1e">1</text>
<ellipse cx="127.30" cy="167.29" rx="1.80" ry="2.00" fill="#e60012"/>
<text x="127.30" y="168.19" font-size="3.0" font-weight="bold" text-anchor="middle" fill="#1e1e1e">5</text>
<line x1="98.3" y1="173.97" x2="172.7" y2="173.97" stroke="#a4a4a4" stroke-width="1.05"/>
<ellipse cx="107.15" cy="173.97" rx="2.05" ry="2.10" fill="#ffc60b"/>
<text x="107.15" y="174.87" font-size="3.0" font-weight="bold" text-anchor="middle" fill="#1e1e1e">2</text>
<rect x="110.00" y="172.06" width="14.00" height="3.80" rx="3.23" ry="1.90" fill="#67b236"/>
<text x="117.00" y="174.87" font-size="3.0" font-weight="bold" text-anchor="middle" fill="#1e1e1e">1</text>
<rect x="128.00" y="172.06" width="11.20" height="3.80" rx="3.23" ry="1.90" fill="#f05b8d"/>
<text x="133.60" y="174.87" font-size="3.0" font-weight="bold" text-anchor="middle" fill="#1e1e1e">3</text>
<line x1="98.3" y1="180.64" x2="167.0" y2="180.64" stroke="#a4a4a4" stroke-width="1.05"/>
<ellipse cx="106.20" cy="180.64" rx="2.20" ry="2.10" fill="#ffc60b"/>
<text x="106.20" y="181.54" font-size="3.0" font-weight="bold" text-anchor="middle" fill="#1e1e1e">2</text>
<rect x="109.10" y="178.74" width="13.80" height="3.80" rx="3.23" ry="1.90" fill="#67b236"/>
<text x="116.00" y="181.54" font-size="3.0" font-weight="bold" text-anchor="middle" fill="#1e1e1e">1</text>
<rect x="124.40" y="178.74" width="10.90" height="3.80" rx="3.23" ry="1.90" fill="#f05b8d"/>
<text x="129.85" y="181.54" font-size="3.0" font-weight="bold" text-anchor="middle" fill="#1e1e1e">3</text>
<line x1="98.3" y1="187.31" x2="177.3" y2="187.31" stroke="#a4a4a4" stroke-width="1.05"/>
<ellipse cx="104.55" cy="187.31" rx="2.15" ry="2.10" fill="#ffc60b"/>
<text x="104.55" y="188.21" font-size="3.0" font-weight="bold" text-anchor="middle" fill="#1e1e1e">2</text>
<rect x="107.80" y="185.41" width="13.60" height="3.80" rx="3.23" ry="1.90" fill="#67b236"/>
<text x="114.60" y="188.21" font-size="3.0" font-weight="bold" text-anchor="middle" fill="#1e1e1e">1</text>
<ellipse cx="124.00" cy="187.31" rx="1.80" ry="2.00" fill="#e60012"/>
<text x="124.00" y="188.21" font-size="3.0" font-weight="bold" text-anchor="middle" fill="#1e1e1e">5</text>
<line x1="98.3" y1="193.98" x2="173.6" y2="193.98" stroke="#a4a4a4" stroke-width="1.05"/>
<ellipse cx="105.55" cy="193.98" rx="2.05" ry="2.10" fill="#ffc60b"/>
<text x="105.55" y="194.88" font-size="3.0" font-weight="bold" text-anchor="middle" fill="#1e1e1e">2</text>
<rect x="108.40" y="192.08" width="13.80" height="3.80" rx="3.23" ry="1.90" fill="#67b236"/>
<text x="115.30" y="194.88" font-size="3.0" font-weight="bold" text-anchor="middle" fill="#1e1e1e">1</text>
<rect x="123.60" y="192.08" width="11.50" height="3.80" rx="3.23" ry="1.90" fill="#f05b8d"/>
<text x="129.35" y="194.88" font-size="3.0" font-weight="bold" text-anchor="middle" fill="#1e1e1e">3</text>
<line x1="98.3" y1="200.65" x2="157.7" y2="200.65" stroke="#a4a4a4" stroke-width="1.05"/>
<ellipse cx="108.20" cy="200.65" rx="2.00" ry="2.10" fill="#ffc60b"/>
<text x="108.20" y="201.55" font-size="3.0" font-weight="bold" text-anchor="middle" fill="#1e1e1e">2</text>
<rect x="111.30" y="198.75" width="13.70" height="3.80" rx="3.23" ry="1.90" fill="#67b236"/>
<text x="118.15" y="201.55" font-size="3.0" font-weight="bold" text-anchor="middle" fill="#1e1e1e">1</text>
<ellipse cx="128.40" cy="200.65" rx="1.80" ry="2.00" fill="#e60012"/>
<text x="128.40" y="201.55" font-size="3.0" font-weight="bold" text-anchor="middle" fill="#1e1e1e">5</text>
<line x1="98.3" y1="207.32" x2="151.2" y2="207.32" stroke="#a4a4a4" stroke-width="1.05"/>
<ellipse cx="107.15" cy="207.32" rx="2.05" ry="2.10" fill="#ffc60b"/>
<text x="107.15" y="208.22" font-size="3.0" font-weight="bold" text-anchor="middle" fill="#1e1e1e">2</text>
<rect x="110.20" y="205.42" width="13.80" height="3.80" rx="3.23" ry="1.90" fill="#67b236"/>
<text x="117.10" y="208.22" font-size="3.0" font-weight="bold" text-anchor="middle" fill="#1e1e1e">1</text>
<ellipse cx="126.50" cy="207.32" rx="1.80" ry="2.00" fill="#e60012"/>
<text x="126.50" y="208.22" font-size="3.0" font-weight="bold" text-anchor="middle" fill="#1e1e1e">5</text>
<line x1="98.3" y1="213.99" x2="157.2" y2="213.99" stroke="#a4a4a4" stroke-width="1.05"/>
<ellipse cx="103.45" cy="213.99" rx="2.15" ry="2.10" fill="#ffc60b"/>
<text x="103.45" y="214.89" font-size="3.0" font-weight="bold" text-anchor="middle" fill="#1e1e1e">2</text>
<rect x="106.70" y="212.09" width="13.70" height="3.80" rx="3.23" ry="1.90" fill="#67b236"/>
<text x="113.55" y="214.89" font-size="3.0" font-weight="bold" text-anchor="middle" fill="#1e1e1e">1</text>
<ellipse cx="122.90" cy="213.99" rx="1.80" ry="2.00" fill="#e60012"/>
<text x="122.90" y="214.89" font-size="3.0" font-weight="bold" text-anchor="middle" fill="#1e1e1e">5</text>
<line x1="98.3" y1="220.66" x2="153.8" y2="220.66" stroke="#a4a4a4" stroke-width="1.05"/>
<ellipse cx="109.60" cy="220.66" rx="2.00" ry="2.10" fill="#ffc60b"/>
<text x="109.60" y="221.56" font-size="3.0" font-weight="bold" text-anchor="middle" fill="#1e1e1e">2</text>
<rect x="112.70" y="218.76" width="13.90" height="3.80" rx="3.23" ry="1.90" fill="#67b236"/>
<text x="119.65" y="221.56" font-size="3.0" font-weight="bold" text-anchor="middle" fill="#1e1e1e">1</text>
<ellipse cx="128.95" cy="220.66" rx="1.75" ry="2.00" fill="#e60012"/>
<text x="128.95" y="221.56" font-size="3.0" font-weight="bold" text-anchor="middle" fill="#1e1e1e">5</text>
<line x1="98.3" y1="227.33" x2="162.1" y2="227.33" stroke="#a4a4a4" stroke-width="1.05"/>
<ellipse cx="106.70" cy="227.33" rx="2.20" ry="2.10" fill="#ffc60b"/>
<text x="106.70" y="228.23" font-size="3.0" font-weight="bold" text-anchor="middle" fill="#1e1e1e">2</text>
<rect x="109.80" y="225.43" width="13.80" height="3.80" rx="3.23" ry="1.90" fill="#67b236"/>
<text x="116.70" y="228.23" font-size="3.0" font-weight="bold" text-anchor="middle" fill="#1e1e1e">1</text>
<ellipse cx="126.20" cy="227.33" rx="1.80" ry="2.00" fill="#e60012"/>
<text x="126.20" y="228.23" font-size="3.0" font-weight="bold" text-anchor="middle" fill="#1e1e1e">5</text>
<line x1="98.3" y1="234.00" x2="158.8" y2="234.00" stroke="#a4a4a4" stroke-width="1.05"/>
<rect x="103.50" y="232.10" width="13.90" height="3.80" rx="3.23" ry="1.90" fill="#67b236"/>
<text x="110.45" y="234.90" font-size="3.0" font-weight="bold" text-anchor="middle" fill="#1e1e1e">1</text>
<rect x="118.50" y="232.10" width="11.70" height="3.80" rx="3.23" ry="1.90" fill="#f05b8d"/>
<text x="124.35" y="234.90" font-size="3.0" font-weight="bold" text-anchor="middle" fill="#1e1e1e">3</text>
<line x1="98.3" y1="240.68" x2="169.5" y2="240.68" stroke="#a4a4a4" stroke-width="1.05"/>
<ellipse cx="105.10" cy="240.68" rx="2.20" ry="2.10" fill="#ffc60b"/>
<text x="105.10" y="241.58" font-size="3.0" font-weight="bold" text-anchor="middle" fill="#1e1e1e">2</text>
<rect x="108.00" y="238.78" width="13.80" height="3.80" rx="3.23" ry="1.90" fill="#67b236"/>
<text x="114.90" y="241.58" font-size="3.0" font-weight="bold" text-anchor="middle" fill="#1e1e1e">1</text>
<rect x="122.90" y="238.78" width="11.60" height="3.80" rx="3.23" ry="1.90" fill="#f05b8d"/>
<text x="128.70" y="241.58" font-size="3.0" font-weight="bold" text-anchor="middle" fill="#1e1e1e">3</text>
<line x1="98.3" y1="247.35" x2="158.8" y2="247.35" stroke="#a4a4a4" stroke-width="1.05"/>
<ellipse cx="105.65" cy="247.35" rx="2.15" ry="2.10" fill="#ffc60b"/>
<text x="105.65" y="248.25" font-size="3.0" font-weight="bold" text-anchor="middle" fill="#1e1e1e">2</text>
<rect x="108.70" y="245.45" width="13.80" height="3.80" rx="3.23" ry="1.90" fill="#67b236"/>
<text x="115.60" y="248.25" font-size="3.0" font-weight="bold" text-anchor="middle" fill="#1e1e1e">1</text>
<rect x="123.60" y="245.45" width="11.50" height="3.80" rx="3.23" ry="1.90" fill="#f05b8d"/>
<text x="129.35" y="248.25" font-size="3.0" font-weight="bold" text-anchor="middle" fill="#1e1e1e">3</text>
<line x1="98.3" y1="254.02" x2="161.0" y2="254.02" stroke="#a4a4a4" stroke-width="1.05"/>
<rect x="105.90" y="252.12" width="13.70" height="3.80" rx="3.23" ry="1.90" fill="#67b236"/>
<text x="112.75" y="254.92" font-size="3.0" font-weight="bold" text-anchor="middle" fill="#1e1e1e">1</text>
<rect x="120.90" y="252.12" width="11.50" height="3.80" rx="3.23" ry="1.90" fill="#f05b8d"/>
<text x="126.65" y="254.92" font-size="3.0" font-weight="bold" text-anchor="middle" fill="#1e1e1e">3</text>
<rect x="141.60" y="252.12" width="9.80" height="3.80" rx="3.23" ry="1.90" fill="#14807b"/>
<text x="146.50" y="254.92" font-size="3.0" font-weight="bold" text-anchor="middle" fill="#1e1e1e">4</text>
<line x1="98.3" y1="260.69" x2="192.0" y2="260.69" stroke="#a4a4a4" stroke-width="1.05"/>
<rect x="133.80" y="258.79" width="13.50" height="3.80" rx="3.23" ry="1.90" fill="#67b236"/>
<text x="140.55" y="261.59" font-size="3.0" font-weight="bold" text-anchor="middle" fill="#1e1e1e">1</text>
<rect x="148.50" y="258.79" width="11.50" height="3.80" rx="3.23" ry="1.90" fill="#f05b8d"/>
<text x="154.25" y="261.59" font-size="3.0" font-weight="bold" text-anchor="middle" fill="#1e1e1e">3</text>
<rect x="172.70" y="258.79" width="9.50" height="3.80" rx="3.23" ry="1.90" fill="#14807b"/>
<text x="177.45" y="261.59" font-size="3.0" font-weight="bold" text-anchor="middle" fill="#1e1e1e">4</text>
<line x1="98.3" y1="267.36" x2="169.5" y2="267.36" stroke="#a4a4a4" stroke-width="1.05"/>
<rect x="107.80" y="265.46" width="14.00" height="3.80" rx="3.23" ry="1.90" fill="#67b236"/>
<text x="114.80" y="268.26" font-size="3.0" font-weight="bold" text-anchor="middle" fill="#1e1e1e">1</text>
<rect x="123.10" y="265.46" width="11.40" height="3.80" rx="3.23" ry="1.90" fill="#f05b8d"/>
<text x="128.80" y="268.26" font-size="3.0" font-weight="bold" text-anchor="middle" fill="#1e1e1e">3</text>
<rect x="150.10" y="265.46" width="9.90" height="3.80" rx="3.23" ry="1.90" fill="#14807b"/>
<text x="155.05" y="268.26" font-size="3.0" font-weight="bold" text-anchor="middle" fill="#1e1e1e">4</text>
<line x1="98.3" y1="274.03" x2="166.2" y2="274.03" stroke="#a4a4a4" stroke-width="1.05"/>
<ellipse cx="102.90" cy="274.03" rx="2.20" ry="2.10" fill="#ffc60b"/>
<text x="102.90" y="274.93" font-size="3.0" font-weight="bold" text-anchor="middle" fill="#1e1e1e">2</text>
<rect x="105.90" y="272.13" width="13.70" height="3.80" rx="3.23" ry="1.90" fill="#67b236"/>
<text x="112.75" y="274.93" font-size="3.0" font-weight="bold" text-anchor="middle" fill="#1e1e1e">1</text>
<rect x="120.90" y="272.13" width="11.50" height="3.80" rx="3.23" ry="1.90" fill="#f05b8d"/>
<text x="126.65" y="274.93" font-size="3.0" font-weight="bold" text-anchor="middle" fill="#1e1e1e">3</text>
<rect x="148.00" y="272.13" width="10.00" height="3.80" rx="3.23" ry="1.90" fill="#14807b"/>
<text x="153.00" y="274.93" font-size="3.0" font-weight="bold" text-anchor="middle" fill="#1e1e1e">4</text>
<line x1="98.3" y1="280.70" x2="180.9" y2="280.70" stroke="#a4a4a4" stroke-width="1.05"/>
<ellipse cx="117.40" cy="280.70" rx="2.20" ry="2.10" fill="#ffc60b"/>
<text x="117.40" y="281.60" font-size="3.0" font-weight="bold" text-anchor="middle" fill="#1e1e1e">2</text>
<rect x="120.70" y="278.80" width="13.50" height="3.80" rx="3.23" ry="1.90" fill="#67b236"/>
<text x="127.45" y="281.60" font-size="3.0" font-weight="bold" text-anchor="middle" fill="#1e1e1e">1</text>
<rect x="135.60" y="278.80" width="11.50" height="3.80" rx="3.23" ry="1.90" fill="#f05b8d"/>
<text x="141.35" y="281.60" font-size="3.0" font-weight="bold" text-anchor="middle" fill="#1e1e1e">3</text>
<rect x="161.60" y="278.80" width="9.80" height="3.80" rx="3.23" ry="1.90" fill="#14807b"/>
<text x="166.50" y="281.60" font-size="3.0" font-weight="bold" text-anchor="middle" fill="#1e1e1e">4</text>
<line x1="98.3" y1="287.37" x2="183.4" y2="287.37" stroke="#a4a4a4" stroke-width="1.05"/>
<ellipse cx="118.00" cy="287.37" rx="2.00" ry="2.10" fill="#ffc60b"/>
<text x="118.00" y="288.27" font-size="3.0" font-weight="bold" text-anchor="middle" fill="#1e1e1e">2</text>
<rect x="121.10" y="285.47" width="13.80" height="3.80" rx="3.23" ry="1.90" fill="#67b236"/>
<text x="128.00" y="288.27" font-size="3.0" font-weight="bold" text-anchor="middle" fill="#1e1e1e">1</text>
<rect x="135.60" y="285.47" width="11.70" height="3.80" rx="3.23" ry="1.90" fill="#f05b8d"/>
<text x="141.45" y="288.27" font-size="3.0" font-weight="bold" text-anchor="middle" fill="#1e1e1e">3</text>
<line x1="98.3" y1="294.04" x2="177.3" y2="294.04" stroke="#a4a4a4" stroke-width="1.05"/>
<ellipse cx="116.15" cy="294.04" rx="2.05" ry="2.10" fill="#ffc60b"/>
<text x="116.15" y="294.94" font-size="3.0" font-weight="bold" text-anchor="middle" fill="#1e1e1e">2</text>
<rect x="118.90" y="292.14" width="14.00" height="3.80" rx="3.23" ry="1.90" fill="#67b236"/>
<text x="125.90" y="294.94" font-size="3.0" font-weight="bold" text-anchor="middle" fill="#1e1e1e">1</text>
<rect x="134.00" y="292.14" width="11.40" height="3.80" rx="3.23" ry="1.90" fill="#f05b8d"/>
<text x="139.70" y="294.94" font-size="3.0" font-weight="bold" text-anchor="middle" fill="#1e1e1e">3</text>
<line x1="98.3" y1="300.71" x2="177.6" y2="300.71" stroke="#a4a4a4" stroke-width="1.05"/>
<ellipse cx="115.20" cy="300.71" rx="2.20" ry="2.10" fill="#ffc60b"/>
<text x="115.20" y="301.61" font-size="3.0" font-weight="bold" text-anchor="middle" fill="#1e1e1e">2</text>
<rect x="117.80" y="298.81" width="13.80" height="3.80" rx="3.23" ry="1.90" fill="#67b236"/>
<text x="124.70" y="301.61" font-size="3.0" font-weight="bold" text-anchor="middle" fill="#1e1e1e">1</text>
<rect x="132.70" y="298.81" width="11.60" height="3.80" rx="3.23" ry="1.90" fill="#f05b8d"/>
<text x="138.50" y="301.61" font-size="3.0" font-weight="bold" text-anchor="middle" fill="#1e1e1e">3</text>
<line x1="98.3" y1="307.38" x2="172.7" y2="307.38" stroke="#a4a4a4" stroke-width="1.05"/>
<ellipse cx="111.20" cy="307.38" rx="2.10" ry="2.10" fill="#ffc60b"/>
<text x="111.20" y="308.28" font-size="3.0" font-weight="bold" text-anchor="middle" fill="#1e1e1e">2</text>
<rect x="114.10" y="305.49" width="14.20" height="3.80" rx="3.23" ry="1.90" fill="#67b236"/>
<text x="121.20" y="308.28" font-size="3.0" font-weight="bold" text-anchor="middle" fill="#1e1e1e">1</text>
<rect x="129.80" y="305.49" width="11.60" height="3.80" rx="3.23" ry="1.90" fill="#f05b8d"/>
<text x="135.60" y="308.28" font-size="3.0" font-weight="bold" text-anchor="middle" fill="#1e1e1e">3</text>
<line x1="98.3" y1="314.06" x2="172.7" y2="314.06" stroke="#a4a4a4" stroke-width="1.05"/>
<ellipse cx="111.50" cy="314.06" rx="2.00" ry="2.10" fill="#ffc60b"/>
<text x="111.50" y="314.96" font-size="3.0" font-weight="bold" text-anchor="middle" fill="#1e1e1e">2</text>
<rect x="114.60" y="312.16" width="13.70" height="3.80" rx="3.23" ry="1.90" fill="#67b236"/>
<text x="121.45" y="314.96" font-size="3.0" font-weight="bold" text-anchor="middle" fill="#1e1e1e">1</text>
<rect x="129.60" y="312.16" width="11.50" height="3.80" rx="3.23" ry="1.90" fill="#f05b8d"/>
<text x="135.35" y="314.96" font-size="3.0" font-weight="bold" text-anchor="middle" fill="#1e1e1e">3</text>
<line x1="98.3" y1="320.73" x2="190.7" y2="320.73" stroke="#a4a4a4" stroke-width="1.05"/>
<ellipse cx="119.70" cy="320.73" rx="2.10" ry="2.10" fill="#ffc60b"/>
<text x="119.70" y="321.63" font-size="3.0" font-weight="bold" text-anchor="middle" fill="#1e1e1e">2</text>
<rect x="122.90" y="318.83" width="13.50" height="3.80" rx="3.23" ry="1.90" fill="#67b236"/>
<text x="129.65" y="321.63" font-size="3.0" font-weight="bold" text-anchor="middle" fill="#1e1e1e">1</text>
<rect x="137.80" y="318.83" width="11.50" height="3.80" rx="3.23" ry="1.90" fill="#f05b8d"/>
<text x="143.55" y="321.63" font-size="3.0" font-weight="bold" text-anchor="middle" fill="#1e1e1e">3</text>
<rect x="167.00" y="318.83" width="9.30" height="3.80" rx="3.23" ry="1.90" fill="#14807b"/>
<text x="171.65" y="321.63" font-size="3.0" font-weight="bold" text-anchor="middle" fill="#1e1e1e">4</text>
<line x1="98.3" y1="327.40" x2="192.0" y2="327.40" stroke="#a4a4a4" stroke-width="1.05"/>
<ellipse cx="119.40" cy="327.40" rx="2.00" ry="2.10" fill="#ffc60b"/>
<text x="119.40" y="328.30" font-size="3.0" font-weight="bold" text-anchor="middle" fill="#1e1e1e">2</text>
<rect x="122.20" y="325.50" width="14.00" height="3.80" rx="3.23" ry="1.90" fill="#67b236"/>
<text x="129.20" y="328.30" font-size="3.0" font-weight="bold" text-anchor="middle" fill="#1e1e1e">1</text>
<rect x="137.50" y="325.50" width="11.50" height="3.80" rx="3.23" ry="1.90" fill="#f05b8d"/>
<text x="143.25" y="328.30" font-size="3.0" font-weight="bold" text-anchor="middle" fill="#1e1e1e">3</text>
<line x1="98.3" y1="334.07" x2="183.9" y2="334.07" stroke="#a4a4a4" stroke-width="1.05"/>
<ellipse cx="115.20" cy="334.07" rx="2.20" ry="2.10" fill="#ffc60b"/>
<text x="115.20" y="334.97" font-size="3.0" font-weight="bold" text-anchor="middle" fill="#1e1e1e">2</text>
<rect x="118.20" y="332.17" width="13.80" height="3.80" rx="3.23" ry="1.90" fill="#67b236"/>
<text x="125.10" y="334.97" font-size="3.0" font-weight="bold" text-anchor="middle" fill="#1e1e1e">1</text>
<rect x="133.10" y="332.17" width="11.80" height="3.80" rx="3.23" ry="1.90" fill="#f05b8d"/>
<text x="139.00" y="334.97" font-size="3.0" font-weight="bold" text-anchor="middle" fill="#1e1e1e">3</text>
<line x1="98.3" y1="340.74" x2="182.9" y2="340.74" stroke="#a4a4a4" stroke-width="1.05"/>
<ellipse cx="114.15" cy="340.74" rx="2.15" ry="2.10" fill="#ffc60b"/>
<text x="114.15" y="341.64" font-size="3.0" font-weight="bold" text-anchor="middle" fill="#1e1e1e">2</text>
<rect x="117.10" y="338.84" width="13.80" height="3.80" rx="3.23" ry="1.90" fill="#67b236"/>
<text x="124.00" y="341.64" font-size="3.0" font-weight="bold" text-anchor="middle" fill="#1e1e1e">1</text>
<rect x="132.00" y="338.84" width="11.60" height="3.80" rx="3.23" ry="1.90" fill="#f05b8d"/>
<text x="137.80" y="341.64" font-size="3.0" font-weight="bold" text-anchor="middle" fill="#1e1e1e">3</text>
<line x1="98.3" y1="347.41" x2="174.0" y2="347.41" stroke="#a4a4a4" stroke-width="1.05"/>
<rect x="114.90" y="345.51" width="13.60" height="3.80" rx="3.23" ry="1.90" fill="#67b236"/>
<text x="121.70" y="348.31" font-size="3.0" font-weight="bold" text-anchor="middle" fill="#1e1e1e">1</text>
<ellipse cx="131.25" cy="347.41" rx="1.65" ry="2.00" fill="#e60012"/>
<text x="131.25" y="348.31" font-size="3.0" font-weight="bold" text-anchor="middle" fill="#1e1e1e">5</text>
<rect x="155.30" y="345.51" width="10.10" height="3.80" rx="3.23" ry="1.90" fill="#14807b"/>
<text x="160.35" y="348.31" font-size="3.0" font-weight="bold" text-anchor="middle" fill="#1e1e1e">4</text>
<line x1="98.3" y1="354.08" x2="177.3" y2="354.08" stroke="#a4a4a4" stroke-width="1.05"/>
<ellipse cx="119.10" cy="354.08" rx="2.00" ry="2.10" fill="#ffc60b"/>
<text x="119.10" y="354.98" font-size="3.0" font-weight="bold" text-anchor="middle" fill="#1e1e1e">2</text>
<rect x="122.20" y="352.18" width="13.40" height="3.80" rx="3.23" ry="1.90" fill="#67b236"/>
<text x="128.90" y="354.98" font-size="3.0" font-weight="bold" text-anchor="middle" fill="#1e1e1e">1</text>
<rect x="137.00" y="352.18" width="11.40" height="3.80" rx="3.23" ry="1.90" fill="#f05b8d"/>
<text x="142.70" y="354.98" font-size="3.0" font-weight="bold" text-anchor="middle" fill="#1e1e1e">3</text>
<rect x="161.00" y="352.18" width="9.80" height="3.80" rx="3.23" ry="1.90" fill="#14807b"/>
<text x="165.90" y="354.98" font-size="3.0" font-weight="bold" text-anchor="middle" fill="#1e1e1e">4</text>
<line x1="98.3" y1="360.75" x2="172.4" y2="360.75" stroke="#a4a4a4" stroke-width="1.05"/>
<ellipse cx="115.05" cy="360.75" rx="2.05" ry="2.10" fill="#ffc60b"/>
<text x="115.05" y="361.65" font-size="3.0" font-weight="bold" text-anchor="middle" fill="#1e1e1e">2</text>
<rect x="117.80" y="358.85" width="14.00" height="3.80" rx="3.23" ry="1.90" fill="#67b236"/>
<text x="124.80" y="361.65" font-size="3.0" font-weight="bold" text-anchor="middle" fill="#1e1e1e">1</text>
<rect x="133.10" y="358.85" width="11.20" height="3.80" rx="3.23" ry="1.90" fill="#f05b8d"/>
<text x="138.70" y="361.65" font-size="3.0" font-weight="bold" text-anchor="middle" fill="#1e1e1e">3</text>
<rect x="151.80" y="358.85" width="9.80" height="3.80" rx="3.23" ry="1.90" fill="#14807b"/>
<text x="156.70" y="361.65" font-size="3.0" font-weight="bold" text-anchor="middle" fill="#1e1e1e">4</text>
<line x1="98.3" y1="367.42" x2="181.7" y2="367.42" stroke="#a4a4a4" stroke-width="1.05"/>
<ellipse cx="124.30" cy="367.42" rx="2.10" ry="2.10" fill="#ffc60b"/>
<text x="124.30" y="368.32" font-size="3.0" font-weight="bold" text-anchor="middle" fill="#1e1e1e">2</text>
<rect x="127.20" y="365.52" width="13.50" height="3.80" rx="3.23" ry="1.90" fill="#67b236"/>
<text x="133.95" y="368.32" font-size="3.0" font-weight="bold" text-anchor="middle" fill="#1e1e1e">1</text>
<rect x="142.20" y="365.52" width="10.90" height="3.80" rx="3.23" ry="1.90" fill="#f05b8d"/>
<text x="147.65" y="368.32" font-size="3.0" font-weight="bold" text-anchor="middle" fill="#1e1e1e">3</text>
<rect x="162.90" y="365.52" width="9.80" height="3.80" rx="3.23" ry="1.90" fill="#14807b"/>
<text x="167.80" y="368.32" font-size="3.0" font-weight="bold" text-anchor="middle" fill="#1e1e1e">4</text>
<line x1="98.3" y1="373.8" x2="282.6" y2="373.8" stroke="#d2d2d2" stroke-width="1.25"/>
<line x1="99.00" y1="372.2" x2="99.00" y2="373.8" stroke="#dedede" stroke-width="0.5"/>
<text transform="translate(99.00,381.2) scale(1,1.1)" font-size="5.7" text-anchor="middle" fill="#3c3c3c" stroke="#3c3c3c" stroke-width="0.18">0</text>
<line x1="135.76" y1="372.2" x2="135.76" y2="373.8" stroke="#dedede" stroke-width="0.5"/>
<text transform="translate(135.76,381.2) scale(1,1.1)" font-size="5.7" text-anchor="middle" fill="#3c3c3c" stroke="#3c3c3c" stroke-width="0.18">100</text>
<line x1="172.52" y1="372.2" x2="172.52" y2="373.8" stroke="#dedede" stroke-width="0.5"/>
<text transform="translate(172.52,381.2) scale(1,1.1)" font-size="5.7" text-anchor="middle" fill="#3c3c3c" stroke="#3c3c3c" stroke-width="0.18">200</text>
<line x1="209.28" y1="372.2" x2="209.28" y2="373.8" stroke="#dedede" stroke-width="0.5"/>
<text transform="translate(209.28,381.2) scale(1,1.1)" font-size="5.7" text-anchor="middle" fill="#3c3c3c" stroke="#3c3c3c" stroke-width="0.18">300</text>
<line x1="246.04" y1="372.2" x2="246.04" y2="373.8" stroke="#dedede" stroke-width="0.5"/>
<text transform="translate(246.04,381.2) scale(1,1.1)" font-size="5.7" text-anchor="middle" fill="#3c3c3c" stroke="#3c3c3c" stroke-width="0.18">400</text>
<line x1="282.80" y1="372.2" x2="282.80" y2="373.8" stroke="#dedede" stroke-width="0.5"/>
<text transform="translate(282.80,381.2) scale(1,1.1)" font-size="5.7" text-anchor="middle" fill="#3c3c3c" stroke="#3c3c3c" stroke-width="0.18">500</text>
<text x="94.2" y="375.2" font-size="5.2" fill="#3c3c3c" stroke="#3c3c3c" stroke-width="0.18">5'</text>
<text x="282.3" y="375.2" font-size="5.2" fill="#3c3c3c" stroke="#3c3c3c" stroke-width="0.18">3'</text>
<path d="M300.95,4.94 L391.60,4.94 Q392.63,5.09 393.90,6.79 Q392.63,8.49 391.60,8.64 L300.95,8.64 A1.85,1.85 0 0 1 300.95,4.94 Z" fill="#6cb33e"/>
<path d="M300.95,11.61 L387.40,11.61 Q388.44,11.76 389.70,13.46 Q388.44,15.16 387.40,15.31 L300.95,15.31 A1.85,1.85 0 0 1 300.95,11.61 Z" fill="#6cb33e"/>
<path d="M300.95,18.28 L390.80,18.28 Q391.84,18.43 393.10,20.13 Q391.84,21.83 390.80,21.98 L300.95,21.98 A1.85,1.85 0 0 1 300.95,18.28 Z" fill="#6cb33e"/>
<path d="M300.95,24.95 L378.60,24.95 Q379.63,25.10 380.90,26.80 Q379.63,28.50 378.60,28.65 L300.95,28.65 A1.85,1.85 0 0 1 300.95,24.95 Z" fill="#6cb33e"/>
<path d="M300.95,31.62 L376.45,31.62 Q377.49,31.77 378.75,33.47 Q377.49,35.17 376.45,35.32 L300.95,35.32 A1.85,1.85 0 0 1 300.95,31.62 Z" fill="#6cb33e"/>
<path d="M300.95,38.30 L401.70,38.30 Q402.74,38.45 404.00,40.15 Q402.74,41.85 401.70,42.00 L300.95,42.00 A1.85,1.85 0 0 1 300.95,38.30 Z" fill="#6cb33e"/>
<path d="M300.95,44.97 L401.00,44.97 Q402.04,45.12 403.30,46.82 Q402.04,48.52 401.00,48.67 L300.95,48.67 A1.85,1.85 0 0 1 300.95,44.97 Z" fill="#6cb33e"/>
<path d="M300.95,51.64 L401.30,51.64 Q402.34,51.79 403.60,53.49 Q402.34,55.19 401.30,55.34 L300.95,55.34 A1.85,1.85 0 0 1 300.95,51.64 Z" fill="#6cb33e"/>
<path d="M300.95,58.31 L376.30,58.31 Q377.34,58.46 378.60,60.16 Q377.34,61.86 376.30,62.01 L300.95,62.01 A1.85,1.85 0 0 1 300.95,58.31 Z" fill="#6cb33e"/>
<path d="M300.95,64.98 L332.30,64.98 Q333.34,65.13 334.60,66.83 Q333.34,68.53 332.30,68.68 L300.95,68.68 A1.85,1.85 0 0 1 300.95,64.98 Z" fill="#ffc700"/>
<path d="M337.95,64.98 L376.80,64.98 Q377.84,65.13 379.10,66.83 Q377.84,68.53 376.80,68.68 L337.95,68.68 A1.85,1.85 0 0 1 337.95,64.98 Z" fill="#6cb33e"/>
<line x1="379.10" y1="66.83" x2="412.50" y2="66.83" stroke="#a8a8a8" stroke-width="0.9"/>
<path d="M414.35,64.98 L451.70,64.98 Q452.74,65.13 454.00,66.83 Q452.74,68.53 451.70,68.68 L414.35,68.68 A1.85,1.85 0 0 1 414.35,64.98 Z" fill="#6cb33e"/>
<path d="M455.85,64.98 L479.00,64.98 Q480.04,65.13 481.30,66.83 Q480.04,68.53 479.00,68.68 L455.85,68.68 A1.85,1.85 0 0 1 455.85,64.98 Z" fill="#ffc700"/>
<path d="M300.95,71.65 L351.20,71.65 Q352.24,71.80 353.50,73.50 Q352.24,75.20 351.20,75.35 L300.95,75.35 A1.85,1.85 0 0 1 300.95,71.65 Z" fill="#ffc700"/>
<ellipse cx="354.50" cy="73.50" rx="0.90" ry="1.67" fill="#6cb33e"/>
<line x1="355.40" y1="73.50" x2="366.80" y2="73.50" stroke="#a8a8a8" stroke-width="0.9"/>
<path d="M368.65,71.65 L459.30,71.65 Q460.34,71.80 461.60,73.50 Q460.34,75.20 459.30,75.35 L368.65,75.35 A1.85,1.85 0 0 1 368.65,71.65 Z" fill="#6cb33e"/>
<ellipse cx="463.50" cy="73.50" rx="1.50" ry="1.67" fill="#ffc700"/>
<path d="M300.95,78.32 L352.10,78.32 Q353.13,78.47 354.40,80.17 Q353.13,81.87 352.10,82.02 L300.95,82.02 A1.85,1.85 0 0 1 300.95,78.32 Z" fill="#6cb33e"/>
<path d="M300.95,84.99 L344.60,84.99 Q345.63,85.14 346.90,86.84 Q345.63,88.54 344.60,88.69 L300.95,88.69 A1.85,1.85 0 0 1 300.95,84.99 Z" fill="#6cb33e"/>
<path d="M300.95,91.66 L408.20,91.66 Q409.24,91.81 410.50,93.51 Q409.24,95.21 408.20,95.36 L300.95,95.36 A1.85,1.85 0 0 1 300.95,91.66 Z" fill="#6cb33e"/>
<path d="M300.95,98.33 L343.60,98.33 Q344.63,98.48 345.90,100.18 Q344.63,101.88 343.60,102.03 L300.95,102.03 A1.85,1.85 0 0 1 300.95,98.33 Z" fill="#6cb33e"/>
<path d="M300.95,105.01 L303.63,105.01 Q304.65,105.16 305.90,106.86 Q304.65,108.55 303.63,108.70 L300.95,108.70 A1.85,1.85 0 0 1 300.95,105.01 Z" fill="#6cb33e"/>
<line x1="305.90" y1="106.86" x2="344.50" y2="106.86" stroke="#a8a8a8" stroke-width="0.9"/>
<path d="M346.35,105.01 L381.70,105.01 Q382.74,105.16 384.00,106.86 Q382.74,108.55 381.70,108.70 L346.35,108.70 A1.85,1.85 0 0 1 346.35,105.01 Z" fill="#6cb33e"/>
<ellipse cx="299.85" cy="113.53" rx="0.75" ry="1.67" fill="#ffc700"/>
<path d="M303.75,111.68 L305.57,111.68 Q306.39,111.83 307.40,113.53 Q306.39,115.23 305.57,115.38 L303.75,115.38 A1.85,1.85 0 0 1 303.75,111.68 Z" fill="#6cb33e"/>
<line x1="307.40" y1="113.53" x2="318.60" y2="113.53" stroke="#a8a8a8" stroke-width="0.9"/>
<path d="M320.45,111.68 L367.20,111.68 Q368.24,111.83 369.50,113.53 Q368.24,115.23 367.20,115.38 L320.45,115.38 A1.85,1.85 0 0 1 320.45,111.68 Z" fill="#6cb33e"/>
<path d="M371.35,111.68 L379.60,111.68 Q380.63,111.83 381.90,113.53 Q380.63,115.23 379.60,115.38 L371.35,115.38 A1.85,1.85 0 0 1 371.35,111.68 Z" fill="#ffc700"/>
<path d="M300.95,118.35 L303.37,118.35 Q304.33,118.50 305.50,120.20 Q304.33,121.90 303.37,122.05 L300.95,122.05 A1.85,1.85 0 0 1 300.95,118.35 Z" fill="#6cb33e"/>
<line x1="305.50" y1="120.20" x2="358.60" y2="120.20" stroke="#a8a8a8" stroke-width="0.9"/>
<path d="M360.45,118.35 L413.70,118.35 Q414.74,118.50 416.00,120.20 Q414.74,121.90 413.70,122.05 L360.45,122.05 A1.85,1.85 0 0 1 360.45,118.35 Z" fill="#6cb33e"/>
<path d="M300.95,125.02 L327.20,125.02 Q328.24,125.17 329.50,126.87 Q328.24,128.57 327.20,128.72 L300.95,128.72 A1.85,1.85 0 0 1 300.95,125.02 Z" fill="#ffc700"/>
<line x1="329.50" y1="126.87" x2="346.80" y2="126.87" stroke="#a8a8a8" stroke-width="0.9"/>
<ellipse cx="347.40" cy="126.87" rx="0.60" ry="1.67" fill="#ffc700"/>
<line x1="348.00" y1="126.87" x2="349.20" y2="126.87" stroke="#a8a8a8" stroke-width="0.9"/>
<path d="M351.05,125.02 L352.80,125.02 Q353.61,125.17 354.60,126.87 Q353.61,128.57 352.80,128.72 L351.05,128.72 A1.85,1.85 0 0 1 351.05,125.02 Z" fill="#6cb33e"/>
<line x1="354.60" y1="126.87" x2="399.60" y2="126.87" stroke="#a8a8a8" stroke-width="0.9"/>
<path d="M401.45,125.02 L440.70,125.02 Q441.74,125.17 443.00,126.87 Q441.74,128.57 440.70,128.72 L401.45,128.72 A1.85,1.85 0 0 1 401.45,125.02 Z" fill="#6cb33e"/>
<path d="M444.85,125.02 L470.70,125.02 Q471.74,125.17 473.00,126.87 Q471.74,128.57 470.70,128.72 L444.85,128.72 A1.85,1.85 0 0 1 444.85,125.02 Z" fill="#ffc700"/>
<path d="M300.95,131.69 L303.03,131.69 Q303.92,131.84 305.00,133.54 Q303.92,135.24 303.03,135.39 L300.95,135.39 A1.85,1.85 0 0 1 300.95,131.69 Z" fill="#6cb33e"/>
<line x1="305.00" y1="133.54" x2="314.60" y2="133.54" stroke="#a8a8a8" stroke-width="0.9"/>
<path d="M316.45,131.69 L324.50,131.69 Q325.54,131.84 326.80,133.54 Q325.54,135.24 324.50,135.39 L316.45,135.39 A1.85,1.85 0 0 1 316.45,131.69 Z" fill="#6cb33e"/>
<line x1="326.80" y1="133.54" x2="349.90" y2="133.54" stroke="#a8a8a8" stroke-width="0.9"/>
<path d="M351.75,131.69 L376.50,131.69 Q377.54,131.84 378.80,133.54 Q377.54,135.24 376.50,135.39 L351.75,135.39 A1.85,1.85 0 0 1 351.75,131.69 Z" fill="#6cb33e"/>
<ellipse cx="300.85" cy="140.21" rx="1.75" ry="1.67" fill="#ffc700"/>
<path d="M305.05,138.36 L319.10,138.36 Q320.13,138.51 321.40,140.21 Q320.13,141.91 319.10,142.06 L305.05,142.06 A1.85,1.85 0 0 1 305.05,138.36 Z" fill="#6cb33e"/>
<line x1="321.40" y1="140.21" x2="332.30" y2="140.21" stroke="#a8a8a8" stroke-width="0.9"/>
<path d="M334.15,138.36 L368.80,138.36 Q369.84,138.51 371.10,140.21 Q369.84,141.91 368.80,142.06 L334.15,142.06 A1.85,1.85 0 0 1 334.15,138.36 Z" fill="#6cb33e"/>
<path d="M372.95,138.36 L396.90,138.36 Q397.94,138.51 399.20,140.21 Q397.94,141.91 396.90,142.06 L372.95,142.06 A1.85,1.85 0 0 1 372.95,138.36 Z" fill="#ffc700"/>
<path d="M300.95,145.03 L303.03,145.03 Q303.92,145.18 305.00,146.88 Q303.92,148.58 303.03,148.73 L300.95,148.73 A1.85,1.85 0 0 1 300.95,145.03 Z" fill="#6cb33e"/>
<line x1="305.00" y1="146.88" x2="315.40" y2="146.88" stroke="#a8a8a8" stroke-width="0.9"/>
<path d="M317.25,145.03 L351.30,145.03 Q352.34,145.18 353.60,146.88 Q352.34,148.58 351.30,148.73 L317.25,148.73 A1.85,1.85 0 0 1 317.25,145.03 Z" fill="#6cb33e"/>
<path d="M300.95,151.70 L303.37,151.70 Q304.33,151.85 305.50,153.55 Q304.33,155.25 303.37,155.40 L300.95,155.40 A1.85,1.85 0 0 1 300.95,151.70 Z" fill="#6cb33e"/>
<line x1="305.50" y1="153.55" x2="316.10" y2="153.55" stroke="#a8a8a8" stroke-width="0.9"/>
<path d="M317.95,151.70 L348.80,151.70 Q349.84,151.85 351.10,153.55 Q349.84,155.25 348.80,155.40 L317.95,155.40 A1.85,1.85 0 0 1 317.95,151.70 Z" fill="#6cb33e"/>
<path d="M300.95,158.37 L310.90,158.37 Q311.94,158.52 313.20,160.22 Q311.94,161.92 310.90,162.07 L300.95,162.07 A1.85,1.85 0 0 1 300.95,158.37 Z" fill="#ffc700"/>
<path d="M315.05,158.37 L317.73,158.37 Q318.75,158.52 320.00,160.22 Q318.75,161.92 317.73,162.07 L315.05,162.07 A1.85,1.85 0 0 1 315.05,158.37 Z" fill="#6cb33e"/>
<line x1="320.00" y1="160.22" x2="346.20" y2="160.22" stroke="#a8a8a8" stroke-width="0.9"/>
<path d="M348.05,158.37 L387.00,158.37 Q388.04,158.52 389.30,160.22 Q388.04,161.92 387.00,162.07 L348.05,162.07 A1.85,1.85 0 0 1 348.05,158.37 Z" fill="#6cb33e"/>
<path d="M391.15,158.37 L416.10,158.37 Q417.13,158.52 418.40,160.22 Q417.13,161.92 416.10,162.07 L391.15,162.07 A1.85,1.85 0 0 1 391.15,158.37 Z" fill="#ffc700"/>
<path d="M300.95,165.04 L357.30,165.04 Q358.34,165.19 359.60,166.89 Q358.34,168.59 357.30,168.74 L300.95,168.74 A1.85,1.85 0 0 1 300.95,165.04 Z" fill="#6cb33e"/>
<path d="M300.95,171.72 L349.10,171.72 Q350.13,171.87 351.40,173.56 Q350.13,175.26 349.10,175.41 L300.95,175.41 A1.85,1.85 0 0 1 300.95,171.72 Z" fill="#6cb33e"/>
<path d="M300.95,178.39 L345.40,178.39 Q346.44,178.54 347.70,180.24 Q346.44,181.94 345.40,182.09 L300.95,182.09 A1.85,1.85 0 0 1 300.95,178.39 Z" fill="#6cb33e"/>
<path d="M300.95,185.06 L352.30,185.06 Q353.34,185.21 354.60,186.91 Q353.34,188.61 352.30,188.76 L300.95,188.76 A1.85,1.85 0 0 1 300.95,185.06 Z" fill="#6cb33e"/>
<path d="M300.95,191.73 L349.70,191.73 Q350.74,191.88 352.00,193.58 Q350.74,195.28 349.70,195.43 L300.95,195.43 A1.85,1.85 0 0 1 300.95,191.73 Z" fill="#6cb33e"/>
<ellipse cx="299.70" cy="200.25" rx="0.60" ry="1.67" fill="#6cb33e"/>
<line x1="300.30" y1="200.25" x2="328.50" y2="200.25" stroke="#a8a8a8" stroke-width="0.9"/>
<path d="M330.35,198.40 L366.20,198.40 Q367.24,198.55 368.50,200.25 Q367.24,201.95 366.20,202.10 L330.35,202.10 A1.85,1.85 0 0 1 330.35,198.40 Z" fill="#6cb33e"/>
<path d="M300.95,205.07 L334.20,205.07 Q335.24,205.22 336.50,206.92 Q335.24,208.62 334.20,208.77 L300.95,208.77 A1.85,1.85 0 0 1 300.95,205.07 Z" fill="#6cb33e"/>
<path d="M300.95,211.74 L338.50,211.74 Q339.54,211.89 340.80,213.59 Q339.54,215.29 338.50,215.44 L300.95,215.44 A1.85,1.85 0 0 1 300.95,211.74 Z" fill="#6cb33e"/>
<path d="M300.95,218.41 L335.60,218.41 Q336.63,218.56 337.90,220.26 Q336.63,221.96 335.60,222.11 L300.95,222.11 A1.85,1.85 0 0 1 300.95,218.41 Z" fill="#6cb33e"/>
<path d="M300.95,225.08 L341.90,225.08 Q342.94,225.23 344.20,226.93 Q342.94,228.63 341.90,228.78 L300.95,228.78 A1.85,1.85 0 0 1 300.95,225.08 Z" fill="#6cb33e"/>
<path d="M300.95,231.75 L339.20,231.75 Q340.24,231.90 341.50,233.60 Q340.24,235.30 339.20,235.45 L300.95,235.45 A1.85,1.85 0 0 1 300.95,231.75 Z" fill="#6cb33e"/>
<path d="M300.95,238.43 L346.80,238.43 Q347.84,238.58 349.10,240.28 Q347.84,241.97 346.80,242.12 L300.95,242.12 A1.85,1.85 0 0 1 300.95,238.43 Z" fill="#6cb33e"/>
<path d="M300.95,245.10 L339.20,245.10 Q340.24,245.25 341.50,246.95 Q340.24,248.65 339.20,248.80 L300.95,248.80 A1.85,1.85 0 0 1 300.95,245.10 Z" fill="#6cb33e"/>
<path d="M300.95,251.77 L340.70,251.77 Q341.74,251.92 343.00,253.62 Q341.74,255.32 340.70,255.47 L300.95,255.47 A1.85,1.85 0 0 1 300.95,251.77 Z" fill="#6cb33e"/>
<path d="M300.95,258.44 L362.80,258.44 Q363.84,258.59 365.10,260.29 Q363.84,261.99 362.80,262.14 L300.95,262.14 A1.85,1.85 0 0 1 300.95,258.44 Z" fill="#6cb33e"/>
<path d="M300.95,265.11 L347.20,265.11 Q348.24,265.26 349.50,266.96 Q348.24,268.66 347.20,268.81 L300.95,268.81 A1.85,1.85 0 0 1 300.95,265.11 Z" fill="#6cb33e"/>
<path d="M300.95,271.78 L344.30,271.78 Q345.34,271.93 346.60,273.63 Q345.34,275.33 344.30,275.48 L300.95,275.48 A1.85,1.85 0 0 1 300.95,271.78 Z" fill="#6cb33e"/>
<path d="M300.95,278.45 L355.50,278.45 Q356.54,278.60 357.80,280.30 Q356.54,282.00 355.50,282.15 L300.95,282.15 A1.85,1.85 0 0 1 300.95,278.45 Z" fill="#6cb33e"/>
<path d="M300.95,285.12 L357.00,285.12 Q358.04,285.27 359.30,286.97 Q358.04,288.67 357.00,288.82 L300.95,288.82 A1.85,1.85 0 0 1 300.95,285.12 Z" fill="#6cb33e"/>
<path d="M300.95,291.79 L352.30,291.79 Q353.34,291.94 354.60,293.64 Q353.34,295.34 352.30,295.49 L300.95,295.49 A1.85,1.85 0 0 1 300.95,291.79 Z" fill="#6cb33e"/>
<path d="M300.95,298.46 L352.60,298.46 Q353.63,298.61 354.90,300.31 Q353.63,302.01 352.60,302.16 L300.95,302.16 A1.85,1.85 0 0 1 300.95,298.46 Z" fill="#6cb33e"/>
<path d="M300.95,305.13 L349.40,305.13 Q350.44,305.28 351.70,306.98 Q350.44,308.69 349.40,308.83 L300.95,308.83 A1.85,1.85 0 0 1 300.95,305.13 Z" fill="#6cb33e"/>
<path d="M300.95,311.81 L349.10,311.81 Q350.13,311.96 351.40,313.66 Q350.13,315.36 349.10,315.51 L300.95,315.51 A1.85,1.85 0 0 1 300.95,311.81 Z" fill="#6cb33e"/>
<path d="M300.95,318.48 L362.50,318.48 Q363.54,318.63 364.80,320.33 Q363.54,322.03 362.50,322.18 L300.95,322.18 A1.85,1.85 0 0 1 300.95,318.48 Z" fill="#6cb33e"/>
<path d="M300.95,325.15 L362.80,325.15 Q363.84,325.30 365.10,327.00 Q363.84,328.70 362.80,328.85 L300.95,328.85 A1.85,1.85 0 0 1 300.95,325.15 Z" fill="#6cb33e"/>
<path d="M300.95,331.82 L356.80,331.82 Q357.84,331.97 359.10,333.67 Q357.84,335.37 356.80,335.52 L300.95,335.52 A1.85,1.85 0 0 1 300.95,331.82 Z" fill="#6cb33e"/>
<path d="M360.95,331.82 L367.70,331.82 Q368.74,331.97 370.00,333.67 Q368.74,335.37 367.70,335.52 L360.95,335.52 A1.85,1.85 0 0 1 360.95,331.82 Z" fill="#ffc700"/>
<path d="M300.95,338.49 L356.20,338.49 Q357.24,338.64 358.50,340.34 Q357.24,342.04 356.20,342.19 L300.95,342.19 A1.85,1.85 0 0 1 300.95,338.49 Z" fill="#6cb33e"/>
<path d="M300.95,345.16 L350.30,345.16 Q351.34,345.31 352.60,347.01 Q351.34,348.71 350.30,348.86 L300.95,348.86 A1.85,1.85 0 0 1 300.95,345.16 Z" fill="#6cb33e"/>
<path d="M300.95,351.83 L352.40,351.83 Q353.44,351.98 354.70,353.68 Q353.44,355.38 352.40,355.53 L300.95,355.53 A1.85,1.85 0 0 1 300.95,351.83 Z" fill="#6cb33e"/>
<path d="M300.95,358.50 L349.40,358.50 Q350.44,358.65 351.70,360.35 Q350.44,362.05 349.40,362.20 L300.95,362.20 A1.85,1.85 0 0 1 300.95,358.50 Z" fill="#6cb33e"/>
<path d="M300.95,365.17 L355.80,365.17 Q356.84,365.32 358.10,367.02 Q356.84,368.72 355.80,368.87 L300.95,368.87 A1.85,1.85 0 0 1 300.95,365.17 Z" fill="#6cb33e"/>
<line x1="299.1" y1="373.8" x2="491.6" y2="373.8" stroke="#d2d2d2" stroke-width="1.25"/>
<line x1="299.10" y1="372.2" x2="299.10" y2="373.8" stroke="#dedede" stroke-width="0.5"/>
<text transform="translate(299.10,381.2) scale(1,1.1)" font-size="5.5" text-anchor="middle" fill="#3c3c3c" stroke="#3c3c3c" stroke-width="0.18">0</text>
<line x1="316.60" y1="372.2" x2="316.60" y2="373.8" stroke="#dedede" stroke-width="0.5"/>
<text transform="translate(316.60,381.2) scale(1,1.1)" font-size="5.5" text-anchor="middle" fill="#3c3c3c" stroke="#3c3c3c" stroke-width="0.18">200</text>
<line x1="334.10" y1="372.2" x2="334.10" y2="373.8" stroke="#dedede" stroke-width="0.5"/>
<text transform="translate(334.10,381.2) scale(1,1.1)" font-size="5.5" text-anchor="middle" fill="#3c3c3c" stroke="#3c3c3c" stroke-width="0.18">400</text>
<line x1="351.60" y1="372.2" x2="351.60" y2="373.8" stroke="#dedede" stroke-width="0.5"/>
<text transform="translate(351.60,381.2) scale(1,1.1)" font-size="5.5" text-anchor="middle" fill="#3c3c3c" stroke="#3c3c3c" stroke-width="0.18">600</text>
<line x1="369.10" y1="372.2" x2="369.10" y2="373.8" stroke="#dedede" stroke-width="0.5"/>
<text transform="translate(369.10,381.2) scale(1,1.1)" font-size="5.5" text-anchor="middle" fill="#3c3c3c" stroke="#3c3c3c" stroke-width="0.18">800</text>
<line x1="386.60" y1="372.2" x2="386.60" y2="373.8" stroke="#dedede" stroke-width="0.5"/>
<text transform="translate(386.60,381.2) scale(1,1.1)" font-size="5.5" text-anchor="middle" fill="#3c3c3c" stroke="#3c3c3c" stroke-width="0.18">1000</text>
<line x1="404.10" y1="372.2" x2="404.10" y2="373.8" stroke="#dedede" stroke-width="0.5"/>
<text transform="translate(404.10,381.2) scale(1,1.1)" font-size="5.5" text-anchor="middle" fill="#3c3c3c" stroke="#3c3c3c" stroke-width="0.18">1200</text>
<line x1="421.60" y1="372.2" x2="421.60" y2="373.8" stroke="#dedede" stroke-width="0.5"/>
<text transform="translate(421.60,381.2) scale(1,1.1)" font-size="5.5" text-anchor="middle" fill="#3c3c3c" stroke="#3c3c3c" stroke-width="0.18">1400</text>
<line x1="439.10" y1="372.2" x2="439.10" y2="373.8" stroke="#dedede" stroke-width="0.5"/>
<text transform="translate(439.10,381.2) scale(1,1.1)" font-size="5.5" text-anchor="middle" fill="#3c3c3c" stroke="#3c3c3c" stroke-width="0.18">1600</text>
<line x1="456.60" y1="372.2" x2="456.60" y2="373.8" stroke="#dedede" stroke-width="0.5"/>
<text transform="translate(456.60,381.2) scale(1,1.1)" font-size="5.5" text-anchor="middle" fill="#3c3c3c" stroke="#3c3c3c" stroke-width="0.18">1800</text>
<line x1="474.10" y1="372.2" x2="474.10" y2="373.8" stroke="#dedede" stroke-width="0.5"/>
<text transform="translate(474.10,381.2) scale(1,1.1)" font-size="5.5" text-anchor="middle" fill="#3c3c3c" stroke="#3c3c3c" stroke-width="0.18">2000</text>
<line x1="491.60" y1="372.2" x2="491.60" y2="373.8" stroke="#dedede" stroke-width="0.5"/>
<text transform="translate(491.60,381.2) scale(1,1.1)" font-size="5.5" text-anchor="middle" fill="#3c3c3c" stroke="#3c3c3c" stroke-width="0.18">2200</text>
<text x="294.0" y="375.2" font-size="5.2" fill="#3c3c3c" stroke="#3c3c3c" stroke-width="0.18">5'</text>
<text x="491.6" y="375.2" font-size="5.2" fill="#3c3c3c" stroke="#3c3c3c" stroke-width="0.18">3'</text>
<rect x="517.9" y="4.30" width="10.7" height="5.2" rx="3.6" ry="2.6" fill="#ffc60b"/>
<text x="530.2" y="8.80" font-size="5.3" fill="#444" stroke="#444" stroke-width="0.06">Motif 2</text>
<rect x="517.9" y="11.54" width="10.7" height="5.2" rx="3.6" ry="2.6" fill="#67b236"/>
<text x="530.2" y="16.04" font-size="5.3" fill="#444" stroke="#444" stroke-width="0.06">Motif 1</text>
<rect x="517.9" y="18.78" width="10.7" height="5.2" rx="3.6" ry="2.6" fill="#e60012"/>
<text x="530.2" y="23.28" font-size="5.3" fill="#444" stroke="#444" stroke-width="0.06">Motif 5</text>
<rect x="517.9" y="26.02" width="10.7" height="5.2" rx="3.6" ry="2.6" fill="#ffbb8f"/>
<text x="530.2" y="30.52" font-size="5.3" fill="#444" stroke="#444" stroke-width="0.06">Motif 10</text>
<rect x="517.9" y="33.26" width="10.7" height="5.2" rx="3.6" ry="2.6" fill="#ff9d1e"/>
<text x="530.2" y="37.76" font-size="5.3" fill="#444" stroke="#444" stroke-width="0.06">Motif 8</text>
<rect x="517.9" y="40.50" width="10.7" height="5.2" rx="3.6" ry="2.6" fill="#4f3b92"/>
<text x="530.2" y="45.00" font-size="5.3" fill="#444" stroke="#444" stroke-width="0.06">Motif 9</text>
<rect x="517.9" y="47.74" width="10.7" height="5.2" rx="3.6" ry="2.6" fill="#a6dc7c"/>
<text x="530.2" y="52.24" font-size="5.3" fill="#444" stroke="#444" stroke-width="0.06">Motif 7</text>
<rect x="517.9" y="54.98" width="10.7" height="5.2" rx="3.6" ry="2.6" fill="#9391bb"/>
<text x="530.2" y="59.48" font-size="5.3" fill="#444" stroke="#444" stroke-width="0.06">Motif 6</text>
<rect x="517.9" y="62.22" width="10.7" height="5.2" rx="3.6" ry="2.6" fill="#f05b8d"/>
<text x="530.2" y="66.72" font-size="5.3" fill="#444" stroke="#444" stroke-width="0.06">Motif 3</text>
<rect x="517.9" y="69.46" width="10.7" height="5.2" rx="3.6" ry="2.6" fill="#14807b"/>
<text x="530.2" y="73.96" font-size="5.3" fill="#444" stroke="#444" stroke-width="0.06">Motif 4</text>
<rect x="517.9" y="88.40" width="10.7" height="5.2" rx="3.6" ry="2.6" fill="#6cb33e"/>
<text x="530.2" y="92.90" font-size="5.3" fill="#444" stroke="#444" stroke-width="0.06">CDS</text>
<rect x="517.9" y="95.40" width="10.7" height="5.2" rx="3.6" ry="2.6" fill="#ffc700"/>
<text x="530.2" y="99.90" font-size="5.3" fill="#444" stroke="#444" stroke-width="0.06">UTR</text>
</g>
</svg>
</div>
</body></html>
